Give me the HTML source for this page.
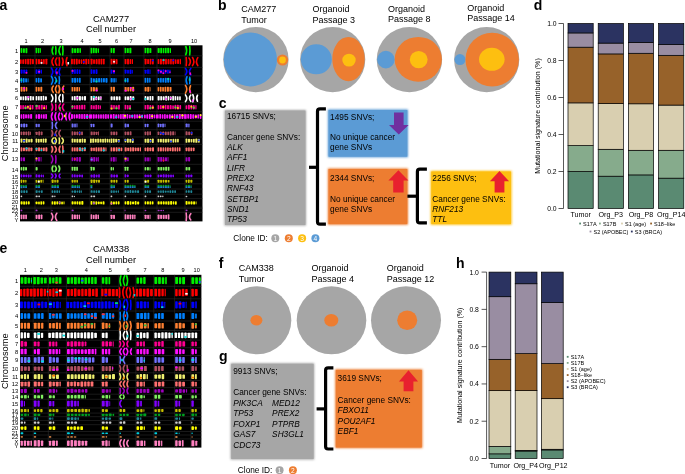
<!DOCTYPE html>
<html><head><meta charset="utf-8"><title>Figure</title>
<style>html,body{margin:0;padding:0;background:#fff}svg{display:block}text{font-family:"Liberation Sans", sans-serif}</style>
</head><body>
<svg width="685" height="474" viewBox="0 0 685 474">
<defs>
<filter id="kb" x="-5%" y="-5%" width="110%" height="110%"><feGaussianBlur stdDeviation="0.35"/></filter>
<filter id="sb" x="-10%" y="-10%" width="120%" height="120%"><feGaussianBlur stdDeviation="0.9"/></filter>
</defs>
<rect width="685" height="474" fill="#fff"/>
<text x="-0.6" y="10" font-size="14" text-anchor="start" font-weight="bold" font-style="normal" fill="#000" >a</text>
<text x="111" y="21.9" font-size="9.3" text-anchor="middle" font-weight="normal" font-style="normal" fill="#000" >CAM277</text>
<text x="111" y="32.4" font-size="9.3" text-anchor="middle" font-weight="normal" font-style="normal" fill="#000" >Cell number</text>
<rect x="20" y="45.3" width="182.5" height="176.1" fill="#000"/>
<path d="M35 45.3V221.4M51 45.3V221.4M71 45.3V221.4M90 45.3V221.4M110 45.3V221.4M124 45.3V221.4M144 45.3V221.4M157 45.3V221.4M185 45.3V221.4M20 55.8H202.5M20 67.4H202.5M20 75.9H202.5M20 84.7H202.5M20 93.8H202.5M20 102.7H202.5M20 111.7H202.5M20 121.2H202.5M20 129.7H202.5M20 137H202.5M20 144.4H202.5M20 154.3H202.5M20 164.3H202.5M20 173.2H202.5M20 178.7H202.5M20 183.8H202.5M20 189H202.5M20 194.2H202.5M20 198.6H202.5M20 207.2H202.5M20 208.6H202.5M20 212.3H202.5" stroke="#333" stroke-width="0.5" fill="none"/>
<g filter="url(#kb)">
<g fill="#00F000"><rect x="20.60" y="48.08" width="1.77" height="4.94" rx="0.7"/><rect x="22.97" y="48.13" width="1.92" height="4.85" rx="0.7"/><rect x="25.49" y="47.95" width="1.87" height="5.19" rx="0.7"/><rect x="35.60" y="47.87" width="1.64" height="5.36" rx="0.7"/><rect x="37.84" y="47.92" width="1.63" height="5.27" rx="0.7"/><rect x="40.08" y="48.12" width="0.92" height="4.87" rx="0.7"/><rect x="71.60" y="47.94" width="1.89" height="5.23" rx="0.7"/><rect x="74.09" y="48.14" width="2.08" height="4.81" rx="0.7"/><rect x="76.77" y="48.00" width="2.02" height="5.10" rx="0.7"/><rect x="79.39" y="48.10" width="1.61" height="4.90" rx="0.7"/><rect x="90.60" y="47.69" width="1.76" height="5.72" rx="0.7"/><rect x="92.96" y="47.83" width="1.70" height="5.44" rx="0.7"/><rect x="95.26" y="47.95" width="1.92" height="5.20" rx="0.7"/><rect x="97.78" y="48.13" width="1.22" height="4.83" rx="0.7"/><rect x="110.60" y="48.05" width="1.64" height="5.00" rx="0.7"/><rect x="112.84" y="47.92" width="1.94" height="5.26" rx="0.7"/><rect x="124.60" y="47.83" width="1.76" height="5.45" rx="0.7"/><rect x="126.96" y="47.99" width="1.83" height="5.11" rx="0.7"/><rect x="129.39" y="47.76" width="1.99" height="5.58" rx="0.7"/><rect x="144.60" y="47.83" width="1.73" height="5.44" rx="0.7"/><rect x="146.93" y="47.66" width="1.86" height="5.79" rx="0.7"/><rect x="149.40" y="48.00" width="1.96" height="5.10" rx="0.7"/><rect x="157.60" y="48.10" width="2.08" height="4.90" rx="0.7"/><rect x="160.28" y="47.72" width="1.81" height="5.65" rx="0.7"/><rect x="162.69" y="47.88" width="1.69" height="5.34" rx="0.7"/><rect x="164.98" y="47.78" width="1.63" height="5.55" rx="0.7"/><rect x="167.22" y="47.83" width="1.98" height="5.43" rx="0.7"/><rect x="169.79" y="47.99" width="1.21" height="5.13" rx="0.7"/></g>
<path d="M53.00 46.91Q51.20 50.55 53.00 54.19M55.70 46.86Q56.30 50.55 55.70 54.24M60.30 46.40Q57.60 50.55 60.30 54.70M62.70 46.12Q63.30 50.55 62.70 54.98M185.80 46.43Q187.60 50.55 185.80 54.67M189.70 46.25Q190.30 50.55 189.70 54.85" stroke="#00F000" stroke-width="1.6" fill="none" stroke-linecap="round"/>
<g fill="#FF0000"><rect x="20.00" y="59.16" width="1.65" height="4.87" rx="0.7"/><rect x="22.25" y="59.18" width="1.95" height="4.84" rx="0.7"/><rect x="24.79" y="58.88" width="1.76" height="5.44" rx="0.7"/><rect x="27.16" y="58.80" width="1.83" height="5.60" rx="0.7"/><rect x="29.58" y="58.67" width="1.78" height="5.87" rx="0.7"/><rect x="31.96" y="58.93" width="1.91" height="5.34" rx="0.7"/><rect x="35.60" y="58.79" width="1.75" height="5.63" rx="0.7"/><rect x="37.95" y="58.93" width="2.05" height="5.34" rx="0.7"/><rect x="40.60" y="59.06" width="1.81" height="5.09" rx="0.7"/><rect x="43.01" y="58.98" width="1.75" height="5.25" rx="0.7"/><rect x="45.36" y="58.66" width="2.03" height="5.89" rx="0.7"/><rect x="71.00" y="58.86" width="1.86" height="5.49" rx="0.7"/><rect x="73.46" y="58.69" width="1.64" height="5.82" rx="0.7"/><rect x="75.70" y="58.75" width="2.03" height="5.70" rx="0.7"/><rect x="78.33" y="59.16" width="1.80" height="4.88" rx="0.7"/><rect x="80.74" y="59.18" width="1.64" height="4.84" rx="0.7"/><rect x="82.98" y="59.02" width="1.69" height="5.16" rx="0.7"/><rect x="85.27" y="58.66" width="1.87" height="5.88" rx="0.7"/><rect x="87.74" y="59.10" width="1.65" height="5.00" rx="0.7"/><rect x="90.60" y="58.66" width="1.92" height="5.88" rx="0.7"/><rect x="93.12" y="59.15" width="1.84" height="4.90" rx="0.7"/><rect x="95.56" y="58.94" width="2.08" height="5.32" rx="0.7"/><rect x="98.24" y="58.78" width="1.68" height="5.64" rx="0.7"/><rect x="100.52" y="58.81" width="1.84" height="5.57" rx="0.7"/><rect x="102.96" y="58.66" width="1.71" height="5.88" rx="0.7"/><rect x="110.60" y="58.68" width="1.94" height="5.84" rx="0.7"/><rect x="113.14" y="58.84" width="1.76" height="5.52" rx="0.7"/><rect x="115.50" y="59.01" width="2.05" height="5.18" rx="0.7"/><rect x="124.60" y="58.92" width="1.87" height="5.35" rx="0.7"/><rect x="127.07" y="58.76" width="1.91" height="5.69" rx="0.7"/><rect x="129.58" y="59.08" width="1.71" height="5.04" rx="0.7"/><rect x="131.89" y="59.10" width="1.11" height="5.00" rx="0.7"/><rect x="144.60" y="58.64" width="1.96" height="5.92" rx="0.7"/><rect x="147.16" y="59.11" width="1.84" height="4.99" rx="0.7"/><rect x="149.60" y="58.74" width="1.78" height="5.71" rx="0.7"/><rect x="151.98" y="58.65" width="1.78" height="5.91" rx="0.7"/><rect x="157.60" y="59.10" width="1.71" height="5.00" rx="0.7"/><rect x="159.91" y="58.73" width="2.04" height="5.75" rx="0.7"/><rect x="162.55" y="58.75" width="1.93" height="5.70" rx="0.7"/><rect x="165.08" y="58.80" width="1.80" height="5.60" rx="0.7"/><rect x="167.48" y="58.96" width="2.04" height="5.27" rx="0.7"/><rect x="170.11" y="58.66" width="1.66" height="5.87" rx="0.7"/><rect x="172.37" y="58.78" width="1.84" height="5.63" rx="0.7"/><rect x="174.80" y="59.13" width="1.68" height="4.94" rx="0.7"/><rect x="177.08" y="59.13" width="2.00" height="4.93" rx="0.7"/><rect x="179.68" y="58.83" width="1.32" height="5.53" rx="0.7"/></g>
<path d="M53.30 57.88Q50.60 61.60 53.30 65.32M56.80 58.01Q54.10 61.60 56.80 65.19M59.20 57.85Q59.80 61.60 59.20 65.35M62.30 58.01Q64.10 61.60 62.30 65.19M67.00 57.54Q65.20 61.60 67.00 65.66M186.20 57.52Q186.80 61.60 186.20 65.68M189.00 58.00Q191.70 61.60 189.00 65.20M192.50 57.54Q195.20 61.60 192.50 65.66M197.80 57.63Q195.10 61.60 197.80 65.57" stroke="#FF0000" stroke-width="1.6" fill="none" stroke-linecap="round"/>
<rect x="40.60" y="62.07" width="1.81" height="1.7" fill="#FFFFFF"/><rect x="67.48" y="62.02" width="1.6" height="2.4" fill="#FFFFFF"/><rect x="82.98" y="61.04" width="1.69" height="1.7" fill="#0000FF"/><rect x="113.14" y="60.87" width="1.76" height="1.7" fill="#FFFFFF"/><rect x="151.98" y="59.62" width="1.78" height="1.7" fill="#0000FF"/><rect x="162.55" y="59.24" width="1.93" height="1.7" fill="#00D0E0"/><rect x="172.37" y="59.47" width="1.84" height="1.7" fill="#0000FF"/>
<g fill="#0000FF"><rect x="20.60" y="69.59" width="2.01" height="4.11" rx="0.7"/><rect x="23.21" y="69.58" width="1.75" height="4.14" rx="0.7"/><rect x="25.56" y="69.49" width="1.74" height="4.31" rx="0.7"/><rect x="35.60" y="69.30" width="1.93" height="4.70" rx="0.7"/><rect x="38.13" y="69.27" width="2.01" height="4.76" rx="0.7"/><rect x="40.74" y="69.48" width="1.26" height="4.34" rx="0.7"/><rect x="71.60" y="69.32" width="1.88" height="4.67" rx="0.7"/><rect x="74.08" y="69.32" width="1.75" height="4.66" rx="0.7"/><rect x="76.43" y="69.33" width="1.88" height="4.64" rx="0.7"/><rect x="78.91" y="69.40" width="1.59" height="4.50" rx="0.7"/><rect x="90.60" y="69.36" width="1.86" height="4.58" rx="0.7"/><rect x="93.06" y="69.46" width="1.87" height="4.37" rx="0.7"/><rect x="95.53" y="69.27" width="1.95" height="4.76" rx="0.7"/><rect x="110.60" y="69.42" width="1.74" height="4.45" rx="0.7"/><rect x="112.94" y="69.63" width="2.01" height="4.04" rx="0.7"/><rect x="124.60" y="69.49" width="1.93" height="4.32" rx="0.7"/><rect x="127.13" y="69.64" width="1.76" height="4.03" rx="0.7"/><rect x="129.49" y="69.38" width="2.06" height="4.53" rx="0.7"/><rect x="132.15" y="69.63" width="0.85" height="4.04" rx="0.7"/><rect x="144.60" y="69.65" width="1.97" height="4.00" rx="0.7"/><rect x="147.17" y="69.37" width="1.69" height="4.56" rx="0.7"/><rect x="149.46" y="69.21" width="1.04" height="4.87" rx="0.7"/><rect x="157.60" y="69.52" width="1.82" height="4.25" rx="0.7"/><rect x="160.02" y="69.48" width="1.88" height="4.34" rx="0.7"/><rect x="162.49" y="69.23" width="1.76" height="4.84" rx="0.7"/><rect x="164.85" y="69.57" width="1.66" height="4.17" rx="0.7"/><rect x="167.11" y="69.49" width="1.68" height="4.32" rx="0.7"/><rect x="169.39" y="69.57" width="1.11" height="4.16" rx="0.7"/></g>
<path d="M51.50 68.16Q54.20 71.65 51.50 75.14M56.80 68.60Q54.10 71.65 56.80 74.70M60.00 68.28Q58.20 71.65 60.00 75.02M185.50 68.53Q188.20 71.65 185.50 74.77M190.80 68.42Q188.10 71.65 190.80 74.88" stroke="#0000FF" stroke-width="1.6" fill="none" stroke-linecap="round"/>
<rect x="25.56" y="71.93" width="1.74" height="1.7" fill="#FF00C0"/><rect x="38.13" y="70.92" width="2.01" height="1.7" fill="#FF00C0"/><rect x="56.14" y="71.46" width="1.6" height="2.4" fill="#FF00C0"/><rect x="71.60" y="70.08" width="1.88" height="1.7" fill="#FF00C0"/><rect x="112.94" y="70.40" width="2.01" height="1.7" fill="#FF00C0"/><rect x="157.60" y="69.57" width="1.82" height="1.7" fill="#FF00C0"/><rect x="160.02" y="70.90" width="1.88" height="1.7" fill="#FF00C0"/><rect x="162.49" y="72.38" width="1.76" height="1.7" fill="#FF00C0"/><rect x="164.85" y="70.26" width="1.66" height="1.7" fill="#FF00C0"/><rect x="169.39" y="71.36" width="1.11" height="1.7" fill="#FF00C0"/><rect x="189.51" y="72.46" width="1.6" height="2.4" fill="#FF00C0"/>
<g fill="#0080FF"><rect x="20.60" y="77.78" width="1.65" height="5.05" rx="0.7"/><rect x="22.85" y="77.93" width="1.78" height="4.73" rx="0.7"/><rect x="25.23" y="78.15" width="1.74" height="4.30" rx="0.7"/><rect x="27.57" y="78.16" width="0.93" height="4.28" rx="0.7"/><rect x="35.60" y="78.11" width="1.64" height="4.37" rx="0.7"/><rect x="37.84" y="77.83" width="1.76" height="4.95" rx="0.7"/><rect x="40.20" y="78.13" width="1.80" height="4.35" rx="0.7"/><rect x="71.60" y="77.88" width="1.93" height="4.83" rx="0.7"/><rect x="74.13" y="77.76" width="1.87" height="5.08" rx="0.7"/><rect x="76.60" y="78.11" width="1.76" height="4.39" rx="0.7"/><rect x="78.96" y="77.76" width="1.71" height="5.07" rx="0.7"/><rect x="90.60" y="77.71" width="1.68" height="5.18" rx="0.7"/><rect x="92.88" y="78.21" width="2.01" height="4.18" rx="0.7"/><rect x="95.49" y="78.00" width="2.03" height="4.61" rx="0.7"/><rect x="98.13" y="78.07" width="1.93" height="4.46" rx="0.7"/><rect x="100.66" y="77.98" width="1.75" height="4.64" rx="0.7"/><rect x="103.01" y="78.08" width="1.83" height="4.44" rx="0.7"/><rect x="105.44" y="77.94" width="2.08" height="4.73" rx="0.7"/><rect x="110.60" y="78.06" width="2.07" height="4.48" rx="0.7"/><rect x="113.27" y="78.02" width="1.62" height="4.56" rx="0.7"/><rect x="115.49" y="78.11" width="1.01" height="4.37" rx="0.7"/><rect x="124.60" y="78.08" width="1.62" height="4.44" rx="0.7"/><rect x="126.82" y="78.06" width="1.80" height="4.47" rx="0.7"/><rect x="144.60" y="77.72" width="1.66" height="5.15" rx="0.7"/><rect x="146.86" y="77.76" width="1.69" height="5.08" rx="0.7"/><rect x="149.14" y="77.82" width="1.36" height="4.95" rx="0.7"/><rect x="157.60" y="78.07" width="1.85" height="4.46" rx="0.7"/><rect x="160.05" y="77.79" width="1.68" height="5.01" rx="0.7"/><rect x="162.33" y="78.00" width="1.86" height="4.61" rx="0.7"/><rect x="164.79" y="77.75" width="1.86" height="5.10" rx="0.7"/><rect x="167.25" y="77.80" width="1.89" height="5.00" rx="0.7"/><rect x="169.73" y="77.89" width="1.27" height="4.82" rx="0.7"/></g>
<path d="M51.50 76.50Q54.20 80.30 51.50 84.10M55.00 77.25Q57.70 80.30 55.00 83.35M59.20 76.84Q59.80 80.30 59.20 83.76M187.00 76.62Q185.20 80.30 187.00 83.98M189.70 77.22Q190.30 80.30 189.70 83.38" stroke="#0080FF" stroke-width="1.6" fill="none" stroke-linecap="round"/>
<rect x="20.60" y="79.34" width="1.65" height="1.7" fill="#00E0A0"/><rect x="55.65" y="79.86" width="1.6" height="2.4" fill="#00E0A0"/><rect x="95.49" y="80.61" width="2.03" height="1.7" fill="#00E0A0"/><rect x="124.60" y="79.75" width="1.62" height="1.7" fill="#00E0A0"/><rect x="167.25" y="78.09" width="1.89" height="1.7" fill="#00E0A0"/><rect x="188.80" y="78.31" width="1.6" height="2.4" fill="#00E0A0"/>
<g fill="#FF8030"><rect x="20.60" y="86.78" width="1.99" height="4.93" rx="0.7"/><rect x="23.19" y="86.83" width="1.87" height="4.84" rx="0.7"/><rect x="25.66" y="87.03" width="1.65" height="4.44" rx="0.7"/><rect x="35.60" y="86.79" width="1.71" height="4.93" rx="0.7"/><rect x="37.91" y="86.97" width="1.85" height="4.56" rx="0.7"/><rect x="40.36" y="86.77" width="1.94" height="4.95" rx="0.7"/><rect x="71.60" y="86.92" width="1.72" height="4.67" rx="0.7"/><rect x="73.92" y="86.93" width="1.75" height="4.64" rx="0.7"/><rect x="76.27" y="86.89" width="2.09" height="4.73" rx="0.7"/><rect x="78.96" y="86.92" width="1.04" height="4.65" rx="0.7"/><rect x="90.60" y="86.91" width="1.65" height="4.69" rx="0.7"/><rect x="92.85" y="86.97" width="2.09" height="4.56" rx="0.7"/><rect x="95.54" y="87.13" width="2.06" height="4.24" rx="0.7"/><rect x="110.60" y="86.75" width="1.68" height="5.01" rx="0.7"/><rect x="112.88" y="86.81" width="2.04" height="4.89" rx="0.7"/><rect x="124.60" y="86.92" width="2.04" height="4.67" rx="0.7"/><rect x="127.24" y="86.96" width="1.94" height="4.58" rx="0.7"/><rect x="129.78" y="86.97" width="1.81" height="4.55" rx="0.7"/><rect x="132.19" y="86.74" width="1.97" height="5.03" rx="0.7"/><rect x="144.60" y="87.02" width="2.04" height="4.46" rx="0.7"/><rect x="147.24" y="86.65" width="1.80" height="5.19" rx="0.7"/><rect x="149.64" y="86.95" width="0.86" height="4.61" rx="0.7"/><rect x="157.60" y="87.12" width="1.64" height="4.27" rx="0.7"/><rect x="159.84" y="86.69" width="1.75" height="5.13" rx="0.7"/><rect x="162.19" y="86.90" width="1.74" height="4.69" rx="0.7"/><rect x="164.53" y="86.68" width="1.79" height="5.15" rx="0.7"/><rect x="166.92" y="86.84" width="2.00" height="4.81" rx="0.7"/><rect x="169.52" y="86.88" width="1.98" height="4.73" rx="0.7"/></g>
<path d="M53.30 86.05Q50.60 89.25 53.30 92.45M56.80 85.85Q54.10 89.25 56.80 92.65M58.80 85.63Q60.60 89.25 58.80 92.87M63.80 86.10Q61.10 89.25 63.80 92.40M185.50 85.38Q188.20 89.25 185.50 93.12M190.50 85.76Q188.70 89.25 190.50 92.74" stroke="#FF8030" stroke-width="1.6" fill="none" stroke-linecap="round"/>
<rect x="23.19" y="87.65" width="1.87" height="1.7" fill="#FF00FF"/><rect x="62.45" y="87.60" width="1.6" height="2.4" fill="#FF00FF"/><rect x="95.54" y="89.65" width="2.06" height="1.7" fill="#FF00FF"/><rect x="124.60" y="89.83" width="2.04" height="1.7" fill="#FF00FF"/><rect x="129.78" y="86.98" width="1.81" height="1.7" fill="#FF00FF"/><rect x="132.19" y="89.18" width="1.97" height="1.7" fill="#FF00FF"/><rect x="189.32" y="90.44" width="1.6" height="2.4" fill="#FF00FF"/>
<g fill="#FFFFFF"><rect x="20.00" y="96.21" width="1.88" height="4.07" rx="0.7"/><rect x="22.48" y="96.17" width="1.75" height="4.16" rx="0.7"/><rect x="24.83" y="96.10" width="1.93" height="4.30" rx="0.7"/><rect x="27.35" y="95.97" width="1.84" height="4.56" rx="0.7"/><rect x="29.79" y="95.90" width="1.85" height="4.69" rx="0.7"/><rect x="32.25" y="96.13" width="1.83" height="4.23" rx="0.7"/><rect x="35.60" y="96.03" width="1.82" height="4.44" rx="0.7"/><rect x="38.02" y="96.03" width="1.70" height="4.45" rx="0.7"/><rect x="40.32" y="95.90" width="1.79" height="4.69" rx="0.7"/><rect x="42.71" y="95.87" width="1.62" height="4.75" rx="0.7"/><rect x="44.93" y="96.19" width="1.97" height="4.11" rx="0.7"/><rect x="71.60" y="96.16" width="1.72" height="4.17" rx="0.7"/><rect x="73.92" y="96.08" width="1.80" height="4.34" rx="0.7"/><rect x="76.32" y="95.87" width="2.02" height="4.75" rx="0.7"/><rect x="78.94" y="95.91" width="1.98" height="4.69" rx="0.7"/><rect x="81.52" y="96.26" width="1.85" height="3.98" rx="0.7"/><rect x="83.97" y="96.04" width="2.06" height="4.42" rx="0.7"/><rect x="90.60" y="95.92" width="1.83" height="4.67" rx="0.7"/><rect x="93.03" y="95.83" width="1.69" height="4.85" rx="0.7"/><rect x="95.32" y="96.29" width="1.98" height="3.91" rx="0.7"/><rect x="97.90" y="96.23" width="1.76" height="4.03" rx="0.7"/><rect x="100.26" y="95.96" width="1.24" height="4.58" rx="0.7"/><rect x="110.60" y="96.20" width="2.06" height="4.10" rx="0.7"/><rect x="113.26" y="96.29" width="1.99" height="3.91" rx="0.7"/><rect x="115.85" y="96.16" width="2.09" height="4.18" rx="0.7"/><rect x="118.54" y="96.18" width="1.96" height="4.14" rx="0.7"/><rect x="124.60" y="96.28" width="1.87" height="3.94" rx="0.7"/><rect x="127.07" y="96.27" width="1.92" height="3.96" rx="0.7"/><rect x="129.60" y="95.98" width="2.04" height="4.54" rx="0.7"/><rect x="132.23" y="96.19" width="2.05" height="4.13" rx="0.7"/><rect x="144.60" y="96.10" width="1.79" height="4.29" rx="0.7"/><rect x="146.99" y="96.20" width="1.85" height="4.11" rx="0.7"/><rect x="149.44" y="95.90" width="1.76" height="4.70" rx="0.7"/><rect x="151.80" y="95.93" width="1.72" height="4.64" rx="0.7"/><rect x="157.60" y="96.06" width="2.07" height="4.39" rx="0.7"/><rect x="160.27" y="96.09" width="1.72" height="4.31" rx="0.7"/><rect x="162.59" y="96.22" width="2.07" height="4.05" rx="0.7"/><rect x="165.25" y="95.82" width="1.72" height="4.85" rx="0.7"/><rect x="167.57" y="96.08" width="1.70" height="4.34" rx="0.7"/><rect x="169.87" y="96.24" width="1.76" height="4.02" rx="0.7"/><rect x="172.24" y="95.84" width="1.70" height="4.81" rx="0.7"/><rect x="174.54" y="95.97" width="1.63" height="4.55" rx="0.7"/><rect x="176.77" y="96.13" width="1.79" height="4.23" rx="0.7"/><rect x="179.16" y="96.16" width="1.62" height="4.18" rx="0.7"/></g>
<path d="M51.50 94.94Q54.20 98.25 51.50 101.56M55.70 94.59Q56.30 98.25 55.70 101.91M60.30 94.80Q57.60 98.25 60.30 101.70M62.70 94.84Q63.30 98.25 62.70 101.66M185.50 94.89Q188.20 98.25 185.50 101.61M190.80 95.03Q188.10 98.25 190.80 101.47M192.80 94.70Q194.60 98.25 192.80 101.80M197.50 95.24Q195.70 98.25 197.50 101.26" stroke="#FFFFFF" stroke-width="1.6" fill="none" stroke-linecap="round"/>
<rect x="27.35" y="96.19" width="1.84" height="1.7" fill="#FF40FF"/><rect x="76.32" y="97.21" width="2.02" height="1.7" fill="#FF40FF"/><rect x="93.03" y="96.10" width="1.69" height="1.7" fill="#00E0E0"/><rect x="95.32" y="97.79" width="1.98" height="1.7" fill="#FF40FF"/><rect x="100.26" y="96.85" width="1.24" height="1.7" fill="#FF40FF"/><rect x="129.60" y="97.94" width="2.04" height="1.7" fill="#FF40FF"/><rect x="132.23" y="98.00" width="2.05" height="1.7" fill="#00E0E0"/><rect x="144.60" y="98.09" width="1.79" height="1.7" fill="#00E0E0"/><rect x="165.25" y="98.13" width="1.72" height="1.7" fill="#FF40FF"/><rect x="169.87" y="97.04" width="1.76" height="1.7" fill="#FF40FF"/><rect x="191.91" y="99.47" width="1.6" height="2.4" fill="#FF40FF"/>
<g fill="#FF0090"><rect x="20.00" y="105.07" width="1.71" height="4.26" rx="0.7"/><rect x="22.31" y="105.05" width="1.63" height="4.31" rx="0.7"/><rect x="24.54" y="105.23" width="1.98" height="3.95" rx="0.7"/><rect x="27.12" y="105.15" width="1.64" height="4.10" rx="0.7"/><rect x="29.36" y="104.78" width="1.77" height="4.83" rx="0.7"/><rect x="31.73" y="104.90" width="1.76" height="4.61" rx="0.7"/><rect x="35.60" y="104.79" width="2.00" height="4.82" rx="0.7"/><rect x="38.20" y="105.02" width="1.95" height="4.36" rx="0.7"/><rect x="40.75" y="104.80" width="1.99" height="4.79" rx="0.7"/><rect x="43.34" y="105.01" width="1.68" height="4.39" rx="0.7"/><rect x="45.62" y="104.95" width="1.38" height="4.50" rx="0.7"/><rect x="71.60" y="105.04" width="1.69" height="4.32" rx="0.7"/><rect x="73.89" y="105.20" width="1.65" height="4.00" rx="0.7"/><rect x="76.15" y="105.03" width="1.95" height="4.34" rx="0.7"/><rect x="78.70" y="104.95" width="1.81" height="4.51" rx="0.7"/><rect x="81.11" y="104.84" width="1.97" height="4.73" rx="0.7"/><rect x="83.68" y="104.84" width="1.67" height="4.72" rx="0.7"/><rect x="90.60" y="105.06" width="1.88" height="4.27" rx="0.7"/><rect x="93.08" y="105.13" width="1.71" height="4.15" rx="0.7"/><rect x="95.39" y="104.82" width="1.69" height="4.76" rx="0.7"/><rect x="97.68" y="105.05" width="1.77" height="4.29" rx="0.7"/><rect x="100.05" y="105.13" width="0.95" height="4.13" rx="0.7"/><rect x="110.60" y="104.77" width="1.93" height="4.87" rx="0.7"/><rect x="113.13" y="105.03" width="1.72" height="4.34" rx="0.7"/><rect x="115.45" y="105.13" width="2.03" height="4.13" rx="0.7"/><rect x="118.08" y="104.83" width="1.79" height="4.75" rx="0.7"/><rect x="124.60" y="104.87" width="1.74" height="4.66" rx="0.7"/><rect x="126.94" y="104.96" width="1.67" height="4.49" rx="0.7"/><rect x="129.20" y="105.07" width="1.72" height="4.27" rx="0.7"/><rect x="144.60" y="104.89" width="1.63" height="4.62" rx="0.7"/><rect x="146.83" y="104.85" width="2.00" height="4.70" rx="0.7"/><rect x="149.44" y="104.95" width="1.79" height="4.51" rx="0.7"/><rect x="151.83" y="105.21" width="1.88" height="3.97" rx="0.7"/><rect x="157.60" y="104.99" width="1.69" height="4.43" rx="0.7"/><rect x="159.89" y="105.11" width="1.80" height="4.17" rx="0.7"/><rect x="162.29" y="105.04" width="1.93" height="4.31" rx="0.7"/><rect x="164.82" y="104.87" width="1.62" height="4.65" rx="0.7"/><rect x="167.05" y="105.06" width="1.92" height="4.29" rx="0.7"/><rect x="169.57" y="105.04" width="2.06" height="4.33" rx="0.7"/><rect x="172.23" y="105.20" width="1.67" height="4.00" rx="0.7"/><rect x="174.50" y="104.87" width="1.79" height="4.66" rx="0.7"/><rect x="176.89" y="104.81" width="1.92" height="4.79" rx="0.7"/><rect x="179.41" y="105.08" width="1.70" height="4.25" rx="0.7"/><rect x="185.60" y="105.21" width="1.70" height="3.97" rx="0.7"/><rect x="187.90" y="104.86" width="1.97" height="4.68" rx="0.7"/><rect x="190.47" y="104.84" width="1.76" height="4.72" rx="0.7"/><rect x="192.83" y="104.94" width="1.90" height="4.52" rx="0.7"/><rect x="195.33" y="104.95" width="1.17" height="4.51" rx="0.7"/></g>
<path d="M51.80 103.92Q53.60 107.20 51.80 110.48M55.70 104.20Q56.30 107.20 55.70 110.20M60.30 103.97Q57.60 107.20 60.30 110.43M63.80 104.07Q61.10 107.20 63.80 110.33" stroke="#FF0090" stroke-width="1.6" fill="none" stroke-linecap="round"/>
<rect x="24.54" y="107.11" width="1.98" height="1.7" fill="#40F040"/><rect x="27.12" y="106.06" width="1.64" height="1.7" fill="#FFE000"/><rect x="29.36" y="107.77" width="1.77" height="1.7" fill="#FFE000"/><rect x="35.60" y="105.13" width="2.00" height="1.7" fill="#40F040"/><rect x="43.34" y="107.30" width="1.68" height="1.7" fill="#FFE000"/><rect x="59.06" y="107.11" width="1.6" height="2.4" fill="#40F040"/><rect x="71.60" y="105.76" width="1.69" height="1.7" fill="#40F040"/><rect x="110.60" y="107.65" width="1.93" height="1.7" fill="#FFE000"/><rect x="115.45" y="107.49" width="2.03" height="1.7" fill="#40F040"/><rect x="129.20" y="107.73" width="1.72" height="1.7" fill="#40F040"/><rect x="149.44" y="107.26" width="1.79" height="1.7" fill="#40F040"/><rect x="151.83" y="106.79" width="1.88" height="1.7" fill="#FFE000"/><rect x="162.29" y="106.17" width="1.93" height="1.7" fill="#FFE000"/><rect x="174.50" y="106.56" width="1.79" height="1.7" fill="#40F040"/><rect x="176.89" y="107.16" width="1.92" height="1.7" fill="#FFE000"/><rect x="190.47" y="105.82" width="1.76" height="1.7" fill="#FFE000"/><rect x="192.83" y="106.81" width="1.90" height="1.7" fill="#40F040"/>
<g fill="#FF10FF"><rect x="20.60" y="114.17" width="1.71" height="4.56" rx="0.7"/><rect x="22.91" y="113.94" width="1.63" height="5.03" rx="0.7"/><rect x="25.14" y="114.33" width="1.79" height="4.23" rx="0.7"/><rect x="27.53" y="114.31" width="2.00" height="4.27" rx="0.7"/><rect x="30.13" y="114.07" width="2.02" height="4.76" rx="0.7"/><rect x="35.60" y="114.21" width="1.77" height="4.47" rx="0.7"/><rect x="37.97" y="114.02" width="2.02" height="4.86" rx="0.7"/><rect x="40.59" y="114.28" width="1.76" height="4.33" rx="0.7"/><rect x="42.95" y="114.16" width="1.79" height="4.59" rx="0.7"/><rect x="45.34" y="113.91" width="1.62" height="5.07" rx="0.7"/><rect x="71.00" y="114.02" width="1.96" height="4.86" rx="0.7"/><rect x="73.56" y="114.16" width="1.64" height="4.59" rx="0.7"/><rect x="75.80" y="114.34" width="2.07" height="4.22" rx="0.7"/><rect x="78.47" y="114.04" width="2.09" height="4.82" rx="0.7"/><rect x="81.16" y="113.92" width="1.71" height="5.07" rx="0.7"/><rect x="83.47" y="113.95" width="2.07" height="5.00" rx="0.7"/><rect x="86.14" y="113.94" width="1.99" height="5.02" rx="0.7"/><rect x="88.72" y="114.25" width="1.28" height="4.41" rx="0.7"/><rect x="90.00" y="114.18" width="2.04" height="4.54" rx="0.7"/><rect x="92.64" y="114.17" width="2.07" height="4.56" rx="0.7"/><rect x="95.32" y="114.29" width="1.91" height="4.32" rx="0.7"/><rect x="97.83" y="114.21" width="1.71" height="4.49" rx="0.7"/><rect x="100.13" y="114.24" width="1.75" height="4.41" rx="0.7"/><rect x="102.48" y="114.28" width="1.99" height="4.35" rx="0.7"/><rect x="105.07" y="113.98" width="1.64" height="4.95" rx="0.7"/><rect x="107.31" y="114.15" width="1.83" height="4.61" rx="0.7"/><rect x="110.00" y="114.28" width="2.04" height="4.33" rx="0.7"/><rect x="112.64" y="114.04" width="2.02" height="4.82" rx="0.7"/><rect x="115.26" y="114.22" width="1.79" height="4.45" rx="0.7"/><rect x="117.66" y="114.32" width="1.83" height="4.26" rx="0.7"/><rect x="120.08" y="114.00" width="1.64" height="4.91" rx="0.7"/><rect x="122.32" y="113.91" width="1.68" height="5.07" rx="0.7"/><rect x="124.00" y="114.25" width="1.93" height="4.40" rx="0.7"/><rect x="126.53" y="114.09" width="1.75" height="4.71" rx="0.7"/><rect x="128.88" y="114.39" width="1.79" height="4.13" rx="0.7"/><rect x="131.27" y="114.39" width="1.91" height="4.13" rx="0.7"/><rect x="133.78" y="114.14" width="1.86" height="4.62" rx="0.7"/><rect x="136.24" y="114.34" width="1.76" height="4.21" rx="0.7"/><rect x="138.60" y="114.33" width="2.01" height="4.24" rx="0.7"/><rect x="141.21" y="114.38" width="1.83" height="4.14" rx="0.7"/><rect x="144.00" y="114.40" width="1.74" height="4.09" rx="0.7"/><rect x="146.34" y="114.23" width="1.88" height="4.43" rx="0.7"/><rect x="148.82" y="113.94" width="1.83" height="5.02" rx="0.7"/><rect x="151.25" y="113.95" width="1.73" height="4.99" rx="0.7"/><rect x="153.58" y="114.38" width="1.73" height="4.14" rx="0.7"/><rect x="155.91" y="114.13" width="1.09" height="4.64" rx="0.7"/><rect x="157.00" y="114.31" width="1.68" height="4.28" rx="0.7"/><rect x="159.28" y="114.09" width="1.86" height="4.73" rx="0.7"/><rect x="161.74" y="114.25" width="1.70" height="4.39" rx="0.7"/><rect x="164.04" y="113.96" width="1.64" height="4.98" rx="0.7"/><rect x="166.27" y="114.41" width="1.95" height="4.09" rx="0.7"/><rect x="168.83" y="114.18" width="1.97" height="4.55" rx="0.7"/><rect x="171.40" y="114.30" width="1.83" height="4.31" rx="0.7"/><rect x="173.83" y="113.96" width="1.67" height="4.98" rx="0.7"/><rect x="176.10" y="114.28" width="2.06" height="4.35" rx="0.7"/><rect x="178.76" y="113.92" width="2.05" height="5.06" rx="0.7"/><rect x="181.42" y="113.96" width="2.06" height="4.98" rx="0.7"/><rect x="184.07" y="113.99" width="0.93" height="4.93" rx="0.7"/><rect x="185.00" y="113.95" width="1.69" height="5.00" rx="0.7"/><rect x="187.29" y="114.11" width="1.80" height="4.69" rx="0.7"/><rect x="189.69" y="113.95" width="2.02" height="5.01" rx="0.7"/><rect x="192.31" y="114.14" width="2.01" height="4.62" rx="0.7"/><rect x="194.92" y="114.41" width="1.87" height="4.09" rx="0.7"/><rect x="197.39" y="114.30" width="1.76" height="4.29" rx="0.7"/><rect x="199.75" y="113.95" width="1.65" height="5.00" rx="0.7"/></g>
<path d="M52.40 112.79Q50.60 116.45 52.40 120.11M55.90 112.74Q54.10 116.45 55.90 120.16M59.40 113.07Q57.60 116.45 59.40 119.83M61.40 113.28Q64.10 116.45 61.40 119.62M66.40 113.10Q64.60 116.45 66.40 119.80M69.90 112.99Q68.10 116.45 69.90 119.91" stroke="#FF10FF" stroke-width="1.6" fill="none" stroke-linecap="round"/>
<rect x="63.91" y="114.74" width="1.6" height="2.4" fill="#FFFF00"/><rect x="86.14" y="116.03" width="1.99" height="1.7" fill="#00D0E0"/><rect x="115.26" y="116.40" width="1.79" height="1.7" fill="#00D0E0"/><rect x="124.00" y="114.87" width="1.93" height="1.7" fill="#FFFF00"/><rect x="131.27" y="115.15" width="1.91" height="1.7" fill="#00D0E0"/><rect x="138.60" y="116.20" width="2.01" height="1.7" fill="#FFFF00"/><rect x="141.21" y="115.40" width="1.83" height="1.7" fill="#00D0E0"/><rect x="151.25" y="115.33" width="1.73" height="1.7" fill="#FFFF00"/><rect x="171.40" y="116.04" width="1.83" height="1.7" fill="#FFFF00"/><rect x="176.10" y="116.16" width="2.06" height="1.7" fill="#00D0E0"/><rect x="181.42" y="114.53" width="2.06" height="1.7" fill="#FFFF00"/><rect x="194.92" y="115.82" width="1.87" height="1.7" fill="#FFFF00"/><rect x="199.75" y="114.33" width="1.65" height="1.7" fill="#FFFF00"/>
<g fill="#7070FF"><rect x="20.60" y="123.68" width="1.91" height="3.54" rx="0.7"/><rect x="23.11" y="123.46" width="2.08" height="3.99" rx="0.7"/><rect x="25.79" y="123.69" width="1.63" height="3.52" rx="0.7"/><rect x="35.60" y="123.73" width="1.92" height="3.44" rx="0.7"/><rect x="38.12" y="123.73" width="1.65" height="3.44" rx="0.7"/><rect x="71.60" y="123.38" width="2.00" height="4.15" rx="0.7"/><rect x="74.20" y="123.39" width="1.65" height="4.13" rx="0.7"/><rect x="76.45" y="123.35" width="1.05" height="4.19" rx="0.7"/><rect x="90.60" y="123.66" width="1.67" height="3.57" rx="0.7"/><rect x="92.87" y="123.74" width="1.67" height="3.43" rx="0.7"/><rect x="110.60" y="123.41" width="2.02" height="4.08" rx="0.7"/><rect x="124.60" y="123.40" width="1.92" height="4.09" rx="0.7"/><rect x="127.12" y="123.63" width="1.88" height="3.64" rx="0.7"/><rect x="144.60" y="123.71" width="1.66" height="3.48" rx="0.7"/><rect x="146.86" y="123.66" width="1.64" height="3.57" rx="0.7"/><rect x="157.60" y="123.57" width="1.77" height="3.76" rx="0.7"/><rect x="159.97" y="123.64" width="1.62" height="3.62" rx="0.7"/><rect x="162.19" y="123.45" width="1.75" height="4.00" rx="0.7"/><rect x="164.54" y="123.62" width="0.96" height="3.67" rx="0.7"/><rect x="185.60" y="123.54" width="2.07" height="3.82" rx="0.7"/><rect x="188.27" y="123.49" width="1.23" height="3.92" rx="0.7"/></g>
<path d="M52.20 122.40Q52.80 125.45 52.20 128.50M56.80 122.37Q54.10 125.45 56.80 128.53" stroke="#7070FF" stroke-width="1.6" fill="none" stroke-linecap="round"/>
<g fill="#B05060"><rect x="20.60" y="131.48" width="1.63" height="3.75" rx="0.7"/><rect x="22.83" y="131.50" width="1.98" height="3.69" rx="0.7"/><rect x="25.41" y="131.56" width="1.87" height="3.58" rx="0.7"/><rect x="27.88" y="131.31" width="1.66" height="4.09" rx="0.7"/><rect x="30.14" y="131.57" width="0.86" height="3.57" rx="0.7"/><rect x="35.60" y="131.65" width="2.08" height="3.40" rx="0.7"/><rect x="38.28" y="131.32" width="1.85" height="4.07" rx="0.7"/><rect x="40.73" y="131.50" width="1.85" height="3.69" rx="0.7"/><rect x="71.60" y="131.32" width="1.65" height="4.06" rx="0.7"/><rect x="73.85" y="131.39" width="1.99" height="3.93" rx="0.7"/><rect x="76.44" y="131.48" width="1.81" height="3.73" rx="0.7"/><rect x="78.85" y="131.28" width="1.66" height="4.15" rx="0.7"/><rect x="81.10" y="131.42" width="1.82" height="3.86" rx="0.7"/><rect x="90.60" y="131.39" width="2.08" height="3.93" rx="0.7"/><rect x="93.28" y="131.40" width="1.68" height="3.90" rx="0.7"/><rect x="95.56" y="131.64" width="1.90" height="3.43" rx="0.7"/><rect x="98.06" y="131.29" width="0.94" height="4.13" rx="0.7"/><rect x="110.60" y="131.51" width="1.88" height="3.67" rx="0.7"/><rect x="113.08" y="131.54" width="1.94" height="3.62" rx="0.7"/><rect x="115.62" y="131.38" width="1.77" height="3.94" rx="0.7"/><rect x="124.60" y="131.54" width="1.86" height="3.62" rx="0.7"/><rect x="127.06" y="131.39" width="2.01" height="3.92" rx="0.7"/><rect x="129.66" y="131.35" width="1.84" height="4.01" rx="0.7"/><rect x="144.60" y="131.55" width="1.78" height="3.60" rx="0.7"/><rect x="146.98" y="131.25" width="1.74" height="4.20" rx="0.7"/><rect x="149.32" y="131.37" width="1.69" height="3.95" rx="0.7"/><rect x="157.60" y="131.59" width="1.69" height="3.52" rx="0.7"/><rect x="159.89" y="131.53" width="1.76" height="3.63" rx="0.7"/><rect x="162.24" y="131.46" width="2.04" height="3.79" rx="0.7"/><rect x="164.88" y="131.38" width="1.85" height="3.93" rx="0.7"/><rect x="167.33" y="131.40" width="1.68" height="3.91" rx="0.7"/><rect x="169.61" y="131.27" width="1.97" height="4.16" rx="0.7"/><rect x="172.18" y="131.34" width="1.89" height="4.03" rx="0.7"/><rect x="174.67" y="131.35" width="0.83" height="4.01" rx="0.7"/><rect x="185.60" y="131.36" width="1.98" height="3.99" rx="0.7"/><rect x="188.18" y="131.38" width="1.94" height="3.94" rx="0.7"/><rect x="190.72" y="131.39" width="1.76" height="3.93" rx="0.7"/></g>
<path d="M51.80 130.56Q53.60 133.35 51.80 136.14M56.80 130.74Q54.10 133.35 56.80 135.96M60.30 130.34Q57.60 133.35 60.30 136.36" stroke="#B05060" stroke-width="1.6" fill="none" stroke-linecap="round"/>
<rect x="54.18" y="133.58" width="1.6" height="2.4" fill="#0020FF"/><rect x="78.85" y="132.05" width="1.66" height="1.7" fill="#0020FF"/><rect x="159.89" y="132.11" width="1.76" height="1.7" fill="#0020FF"/><rect x="162.24" y="132.97" width="2.04" height="1.7" fill="#0020FF"/><rect x="190.72" y="131.95" width="1.76" height="1.7" fill="#0020FF"/>
<g fill="#F0F070"><rect x="20.60" y="138.60" width="1.81" height="4.20" rx="0.7"/><rect x="23.01" y="138.70" width="2.02" height="4.00" rx="0.7"/><rect x="25.62" y="138.53" width="1.93" height="4.34" rx="0.7"/><rect x="28.15" y="138.91" width="1.77" height="3.58" rx="0.7"/><rect x="30.52" y="138.87" width="2.05" height="3.66" rx="0.7"/><rect x="35.60" y="138.60" width="1.72" height="4.20" rx="0.7"/><rect x="37.92" y="138.76" width="1.71" height="3.88" rx="0.7"/><rect x="40.23" y="138.82" width="1.83" height="3.75" rx="0.7"/><rect x="42.66" y="138.57" width="1.62" height="4.27" rx="0.7"/><rect x="44.88" y="138.59" width="1.78" height="4.22" rx="0.7"/><rect x="71.60" y="138.61" width="1.81" height="4.19" rx="0.7"/><rect x="74.01" y="138.82" width="1.74" height="3.77" rx="0.7"/><rect x="76.36" y="138.68" width="2.06" height="4.03" rx="0.7"/><rect x="79.02" y="138.74" width="2.00" height="3.92" rx="0.7"/><rect x="81.61" y="138.57" width="1.68" height="4.25" rx="0.7"/><rect x="83.89" y="138.71" width="1.92" height="3.98" rx="0.7"/><rect x="90.00" y="138.49" width="1.72" height="4.42" rx="0.7"/><rect x="92.32" y="138.55" width="1.92" height="4.29" rx="0.7"/><rect x="94.84" y="138.79" width="1.84" height="3.83" rx="0.7"/><rect x="97.28" y="138.55" width="1.67" height="4.31" rx="0.7"/><rect x="99.55" y="138.80" width="2.02" height="3.81" rx="0.7"/><rect x="102.17" y="138.73" width="1.74" height="3.95" rx="0.7"/><rect x="104.51" y="138.60" width="1.62" height="4.21" rx="0.7"/><rect x="106.72" y="138.78" width="1.73" height="3.84" rx="0.7"/><rect x="109.05" y="138.63" width="0.95" height="4.13" rx="0.7"/><rect x="110.60" y="138.51" width="1.79" height="4.39" rx="0.7"/><rect x="112.99" y="138.55" width="1.64" height="4.30" rx="0.7"/><rect x="115.23" y="138.85" width="1.99" height="3.69" rx="0.7"/><rect x="117.82" y="138.91" width="1.92" height="3.58" rx="0.7"/><rect x="124.60" y="138.87" width="1.73" height="3.66" rx="0.7"/><rect x="126.93" y="138.57" width="1.83" height="4.26" rx="0.7"/><rect x="129.36" y="138.68" width="1.81" height="4.04" rx="0.7"/><rect x="131.77" y="138.48" width="1.94" height="4.43" rx="0.7"/><rect x="144.60" y="138.68" width="1.94" height="4.04" rx="0.7"/><rect x="147.14" y="138.53" width="1.82" height="4.35" rx="0.7"/><rect x="149.57" y="138.81" width="1.74" height="3.78" rx="0.7"/><rect x="151.91" y="138.52" width="1.85" height="4.37" rx="0.7"/><rect x="157.60" y="138.84" width="1.73" height="3.72" rx="0.7"/><rect x="159.93" y="138.84" width="1.96" height="3.71" rx="0.7"/><rect x="162.50" y="138.70" width="1.95" height="4.01" rx="0.7"/><rect x="165.04" y="138.73" width="1.84" height="3.95" rx="0.7"/><rect x="167.48" y="138.84" width="1.94" height="3.73" rx="0.7"/><rect x="170.01" y="138.91" width="1.92" height="3.59" rx="0.7"/><rect x="172.54" y="138.70" width="1.66" height="4.00" rx="0.7"/><rect x="174.80" y="138.82" width="1.68" height="3.76" rx="0.7"/><rect x="177.08" y="138.87" width="1.68" height="3.65" rx="0.7"/><rect x="185.60" y="138.57" width="1.78" height="4.26" rx="0.7"/><rect x="187.98" y="138.79" width="2.05" height="3.82" rx="0.7"/><rect x="190.63" y="138.89" width="1.73" height="3.62" rx="0.7"/><rect x="192.96" y="138.70" width="1.78" height="4.01" rx="0.7"/><rect x="195.34" y="138.53" width="2.08" height="4.34" rx="0.7"/><rect x="198.03" y="138.70" width="1.71" height="4.00" rx="0.7"/></g>
<path d="M53.30 137.98Q50.60 140.70 53.30 143.42M55.00 137.77Q57.70 140.70 55.00 143.63M59.20 138.00Q59.80 140.70 59.20 143.40M62.00 138.06Q64.70 140.70 62.00 143.34" stroke="#F0F070" stroke-width="1.6" fill="none" stroke-linecap="round"/>
<rect x="23.01" y="139.94" width="2.02" height="1.7" fill="#2040FF"/><rect x="53.83" y="140.17" width="1.6" height="2.4" fill="#2040FF"/><rect x="117.82" y="140.21" width="1.92" height="1.7" fill="#2040FF"/><rect x="124.60" y="139.25" width="1.73" height="1.7" fill="#2040FF"/><rect x="131.77" y="139.04" width="1.94" height="1.7" fill="#2040FF"/><rect x="149.57" y="140.02" width="1.74" height="1.7" fill="#2040FF"/><rect x="170.01" y="140.51" width="1.92" height="1.7" fill="#2040FF"/><rect x="198.03" y="139.46" width="1.71" height="1.7" fill="#2040FF"/>
<g fill="#FF7070"><rect x="20.60" y="147.31" width="1.76" height="4.09" rx="0.7"/><rect x="22.96" y="147.55" width="1.99" height="3.61" rx="0.7"/><rect x="25.54" y="147.32" width="2.04" height="4.05" rx="0.7"/><rect x="28.18" y="147.20" width="1.64" height="4.29" rx="0.7"/><rect x="30.42" y="147.54" width="1.98" height="3.62" rx="0.7"/><rect x="35.60" y="147.40" width="1.87" height="3.90" rx="0.7"/><rect x="38.07" y="147.36" width="1.93" height="3.97" rx="0.7"/><rect x="40.61" y="147.49" width="1.66" height="3.73" rx="0.7"/><rect x="42.87" y="147.40" width="1.93" height="3.90" rx="0.7"/><rect x="45.39" y="147.32" width="1.99" height="4.07" rx="0.7"/><rect x="71.60" y="147.26" width="1.82" height="4.18" rx="0.7"/><rect x="74.02" y="147.27" width="1.65" height="4.17" rx="0.7"/><rect x="76.26" y="147.27" width="2.09" height="4.15" rx="0.7"/><rect x="78.95" y="147.32" width="1.98" height="4.05" rx="0.7"/><rect x="81.53" y="147.56" width="1.69" height="3.58" rx="0.7"/><rect x="83.82" y="147.47" width="2.02" height="3.76" rx="0.7"/><rect x="90.60" y="147.46" width="1.96" height="3.78" rx="0.7"/><rect x="93.16" y="147.54" width="1.70" height="3.61" rx="0.7"/><rect x="95.46" y="147.19" width="1.95" height="4.32" rx="0.7"/><rect x="98.01" y="147.29" width="1.66" height="4.12" rx="0.7"/><rect x="100.27" y="147.15" width="1.83" height="4.39" rx="0.7"/><rect x="102.70" y="147.25" width="2.07" height="4.20" rx="0.7"/><rect x="105.38" y="147.29" width="1.12" height="4.12" rx="0.7"/><rect x="110.60" y="147.30" width="1.76" height="4.10" rx="0.7"/><rect x="112.96" y="147.30" width="2.01" height="4.11" rx="0.7"/><rect x="115.58" y="147.24" width="2.07" height="4.21" rx="0.7"/><rect x="118.24" y="147.14" width="1.69" height="4.42" rx="0.7"/><rect x="120.53" y="147.39" width="1.81" height="3.91" rx="0.7"/><rect x="124.60" y="147.22" width="2.06" height="4.26" rx="0.7"/><rect x="127.26" y="147.54" width="1.75" height="3.62" rx="0.7"/><rect x="129.62" y="147.20" width="1.95" height="4.30" rx="0.7"/><rect x="132.17" y="147.13" width="1.90" height="4.43" rx="0.7"/><rect x="134.67" y="147.43" width="1.90" height="3.84" rx="0.7"/><rect x="137.17" y="147.40" width="2.04" height="3.90" rx="0.7"/><rect x="139.81" y="147.17" width="1.19" height="4.36" rx="0.7"/><rect x="144.60" y="147.56" width="1.75" height="3.57" rx="0.7"/><rect x="146.95" y="147.31" width="1.82" height="4.09" rx="0.7"/><rect x="149.37" y="147.55" width="2.04" height="3.61" rx="0.7"/><rect x="152.00" y="147.18" width="2.00" height="4.33" rx="0.7"/><rect x="157.60" y="147.19" width="1.75" height="4.32" rx="0.7"/><rect x="159.95" y="147.16" width="1.94" height="4.38" rx="0.7"/><rect x="162.49" y="147.32" width="1.66" height="4.06" rx="0.7"/><rect x="164.74" y="147.23" width="1.71" height="4.23" rx="0.7"/><rect x="167.05" y="147.30" width="1.73" height="4.11" rx="0.7"/><rect x="169.38" y="147.47" width="1.84" height="3.75" rx="0.7"/><rect x="171.81" y="147.22" width="1.97" height="4.27" rx="0.7"/><rect x="174.38" y="147.21" width="1.66" height="4.28" rx="0.7"/><rect x="176.64" y="147.31" width="1.73" height="4.08" rx="0.7"/><rect x="178.97" y="147.33" width="1.53" height="4.03" rx="0.7"/><rect x="185.60" y="147.48" width="1.89" height="3.74" rx="0.7"/><rect x="188.09" y="147.26" width="1.70" height="4.19" rx="0.7"/><rect x="190.40" y="147.39" width="1.88" height="3.92" rx="0.7"/><rect x="192.88" y="147.55" width="1.69" height="3.61" rx="0.7"/></g>
<path d="M51.80 146.54Q53.60 149.35 51.80 152.16M55.00 146.45Q57.70 149.35 55.00 152.25M60.00 146.28Q58.20 149.35 60.00 152.42M62.70 146.03Q63.30 149.35 62.70 152.67" stroke="#FF7070" stroke-width="1.6" fill="none" stroke-linecap="round"/>
<rect x="25.54" y="147.59" width="2.04" height="1.7" fill="#00D0E0"/><rect x="35.60" y="147.89" width="1.87" height="1.7" fill="#00D0E0"/><rect x="40.61" y="149.43" width="1.66" height="1.7" fill="#00D0E0"/><rect x="62.66" y="150.06" width="1.6" height="2.4" fill="#00D0E0"/><rect x="78.95" y="147.84" width="1.98" height="1.7" fill="#00D0E0"/><rect x="81.53" y="149.52" width="1.69" height="1.7" fill="#00D0E0"/><rect x="83.82" y="147.51" width="2.02" height="1.7" fill="#00D0E0"/><rect x="102.70" y="149.55" width="2.07" height="1.7" fill="#00D0E0"/><rect x="118.24" y="148.92" width="1.69" height="1.7" fill="#00D0E0"/>
<g fill="#A000C0"><rect x="20.60" y="157.29" width="1.79" height="4.01" rx="0.7"/><rect x="22.99" y="157.27" width="1.99" height="4.06" rx="0.7"/><rect x="35.60" y="157.09" width="1.78" height="4.41" rx="0.7"/><rect x="37.98" y="157.07" width="2.03" height="4.46" rx="0.7"/><rect x="40.61" y="156.90" width="0.89" height="4.80" rx="0.7"/><rect x="71.60" y="157.33" width="1.74" height="3.95" rx="0.7"/><rect x="73.94" y="157.30" width="1.70" height="3.99" rx="0.7"/><rect x="76.24" y="157.11" width="1.95" height="4.38" rx="0.7"/><rect x="78.79" y="156.93" width="2.04" height="4.74" rx="0.7"/><rect x="90.60" y="157.00" width="2.05" height="4.59" rx="0.7"/><rect x="93.25" y="156.88" width="1.92" height="4.83" rx="0.7"/><rect x="95.77" y="157.13" width="1.80" height="4.34" rx="0.7"/><rect x="98.17" y="156.87" width="0.83" height="4.87" rx="0.7"/><rect x="110.60" y="157.22" width="1.63" height="4.16" rx="0.7"/><rect x="112.83" y="156.91" width="2.04" height="4.78" rx="0.7"/><rect x="115.48" y="156.97" width="1.02" height="4.67" rx="0.7"/><rect x="124.60" y="156.87" width="1.92" height="4.86" rx="0.7"/><rect x="127.12" y="157.25" width="1.62" height="4.10" rx="0.7"/><rect x="144.60" y="157.13" width="1.90" height="4.34" rx="0.7"/><rect x="147.10" y="157.17" width="1.84" height="4.27" rx="0.7"/><rect x="149.53" y="157.16" width="0.97" height="4.28" rx="0.7"/><rect x="157.60" y="156.90" width="2.00" height="4.79" rx="0.7"/><rect x="160.20" y="156.90" width="1.84" height="4.79" rx="0.7"/><rect x="162.64" y="156.94" width="1.69" height="4.71" rx="0.7"/><rect x="164.93" y="157.28" width="2.04" height="4.05" rx="0.7"/><rect x="167.56" y="156.90" width="0.94" height="4.81" rx="0.7"/><rect x="185.60" y="157.13" width="1.91" height="4.35" rx="0.7"/><rect x="188.11" y="157.11" width="2.01" height="4.37" rx="0.7"/></g>
<path d="M51.50 155.66Q54.20 159.30 51.50 162.94M55.70 155.75Q56.30 159.30 55.70 162.85" stroke="#A000C0" stroke-width="1.6" fill="none" stroke-linecap="round"/>
<rect x="35.60" y="157.67" width="1.78" height="1.7" fill="#FFE000"/><rect x="73.94" y="158.19" width="1.70" height="1.7" fill="#FF2020"/><rect x="90.60" y="158.69" width="2.05" height="1.7" fill="#6080FF"/><rect x="124.60" y="157.91" width="1.92" height="1.7" fill="#FFE000"/><rect x="162.64" y="159.64" width="1.69" height="1.7" fill="#FF2020"/>
<g fill="#80F060"><rect x="20.60" y="166.96" width="1.68" height="3.59" rx="0.7"/><rect x="22.88" y="166.75" width="1.64" height="4.00" rx="0.7"/><rect x="25.12" y="166.99" width="1.88" height="3.52" rx="0.7"/><rect x="35.60" y="166.94" width="2.03" height="3.62" rx="0.7"/><rect x="71.60" y="166.84" width="1.69" height="3.81" rx="0.7"/><rect x="73.89" y="166.67" width="1.77" height="4.16" rx="0.7"/><rect x="76.26" y="166.64" width="1.67" height="4.22" rx="0.7"/><rect x="90.60" y="166.67" width="1.64" height="4.15" rx="0.7"/><rect x="92.84" y="166.96" width="1.93" height="3.58" rx="0.7"/><rect x="110.60" y="166.93" width="1.84" height="3.64" rx="0.7"/><rect x="113.04" y="166.97" width="0.96" height="3.57" rx="0.7"/><rect x="124.60" y="166.63" width="1.79" height="4.23" rx="0.7"/><rect x="126.99" y="166.66" width="1.51" height="4.18" rx="0.7"/><rect x="144.60" y="166.93" width="1.66" height="3.64" rx="0.7"/><rect x="146.86" y="167.03" width="2.04" height="3.45" rx="0.7"/><rect x="149.50" y="166.93" width="1.00" height="3.65" rx="0.7"/><rect x="157.60" y="167.04" width="2.08" height="3.41" rx="0.7"/><rect x="160.28" y="166.91" width="2.00" height="3.69" rx="0.7"/><rect x="162.88" y="167.05" width="1.68" height="3.40" rx="0.7"/><rect x="165.16" y="166.83" width="2.01" height="3.84" rx="0.7"/><rect x="167.77" y="166.87" width="1.70" height="3.77" rx="0.7"/><rect x="185.60" y="166.96" width="2.05" height="3.58" rx="0.7"/><rect x="188.25" y="166.99" width="1.89" height="3.52" rx="0.7"/></g>
<path d="M53.00 166.03Q51.20 168.75 53.00 171.47M55.00 166.02Q57.70 168.75 55.00 171.48M58.80 165.98Q60.60 168.75 58.80 171.52" stroke="#80F060" stroke-width="1.6" fill="none" stroke-linecap="round"/>
<g fill="#8000FF"><rect x="20.60" y="174.33" width="1.70" height="3.24" rx="0.7"/><rect x="22.90" y="174.52" width="1.95" height="2.85" rx="0.7"/><rect x="25.45" y="174.56" width="1.65" height="2.78" rx="0.7"/><rect x="27.71" y="174.42" width="1.90" height="3.05" rx="0.7"/><rect x="30.21" y="174.52" width="1.29" height="2.86" rx="0.7"/><rect x="35.60" y="174.35" width="1.91" height="3.20" rx="0.7"/><rect x="38.11" y="174.39" width="2.00" height="3.11" rx="0.7"/><rect x="40.71" y="174.57" width="1.71" height="2.76" rx="0.7"/><rect x="43.02" y="174.45" width="0.98" height="2.99" rx="0.7"/><rect x="71.60" y="174.33" width="1.81" height="3.23" rx="0.7"/><rect x="74.01" y="174.37" width="1.68" height="3.17" rx="0.7"/><rect x="76.29" y="174.40" width="1.73" height="3.10" rx="0.7"/><rect x="78.62" y="174.58" width="2.08" height="2.74" rx="0.7"/><rect x="81.30" y="174.40" width="1.70" height="3.11" rx="0.7"/><rect x="90.60" y="174.47" width="2.02" height="2.96" rx="0.7"/><rect x="93.22" y="174.26" width="2.06" height="3.37" rx="0.7"/><rect x="95.88" y="174.47" width="1.65" height="2.96" rx="0.7"/><rect x="98.13" y="174.31" width="1.73" height="3.28" rx="0.7"/><rect x="110.60" y="174.33" width="2.05" height="3.24" rx="0.7"/><rect x="113.25" y="174.40" width="2.03" height="3.11" rx="0.7"/><rect x="115.88" y="174.49" width="2.04" height="2.92" rx="0.7"/><rect x="124.60" y="174.34" width="1.67" height="3.21" rx="0.7"/><rect x="126.87" y="174.58" width="1.83" height="2.74" rx="0.7"/><rect x="144.60" y="174.54" width="2.00" height="2.81" rx="0.7"/><rect x="147.20" y="174.56" width="1.73" height="2.78" rx="0.7"/><rect x="149.53" y="174.53" width="1.91" height="2.83" rx="0.7"/><rect x="157.60" y="174.40" width="1.76" height="3.09" rx="0.7"/><rect x="159.96" y="174.58" width="2.07" height="2.73" rx="0.7"/><rect x="162.63" y="174.34" width="2.05" height="3.22" rx="0.7"/><rect x="165.29" y="174.31" width="1.74" height="3.28" rx="0.7"/><rect x="167.63" y="174.43" width="1.92" height="3.03" rx="0.7"/><rect x="170.14" y="174.44" width="1.73" height="3.02" rx="0.7"/><rect x="172.47" y="174.56" width="1.53" height="2.78" rx="0.7"/><rect x="185.60" y="174.50" width="1.70" height="2.90" rx="0.7"/><rect x="187.90" y="174.39" width="1.84" height="3.11" rx="0.7"/><rect x="190.34" y="174.55" width="1.98" height="2.79" rx="0.7"/></g>
<path d="M51.50 174.01Q54.20 175.95 51.50 177.89M55.30 174.09Q57.10 175.95 55.30 177.81M60.00 174.19Q58.20 175.95 60.00 177.71" stroke="#8000FF" stroke-width="1.6" fill="none" stroke-linecap="round"/>
<g fill="#C8C000"><rect x="20.60" y="179.59" width="1.67" height="3.31" rx="0.7"/><rect x="22.87" y="179.81" width="1.72" height="2.87" rx="0.7"/><rect x="25.20" y="179.76" width="1.30" height="2.99" rx="0.7"/><rect x="35.60" y="179.68" width="1.62" height="3.15" rx="0.7"/><rect x="37.82" y="179.69" width="1.90" height="3.13" rx="0.7"/><rect x="40.32" y="179.81" width="1.78" height="2.88" rx="0.7"/><rect x="42.70" y="179.56" width="0.80" height="3.38" rx="0.7"/><rect x="51.60" y="179.62" width="2.05" height="3.27" rx="0.7"/><rect x="54.25" y="179.72" width="1.64" height="3.07" rx="0.7"/><rect x="56.49" y="179.81" width="2.06" height="2.89" rx="0.7"/><rect x="71.60" y="179.77" width="1.92" height="2.96" rx="0.7"/><rect x="74.12" y="179.74" width="1.65" height="3.01" rx="0.7"/><rect x="76.36" y="179.84" width="1.62" height="2.81" rx="0.7"/><rect x="90.60" y="179.58" width="1.98" height="3.35" rx="0.7"/><rect x="93.18" y="179.59" width="2.00" height="3.31" rx="0.7"/><rect x="95.78" y="179.67" width="1.63" height="3.15" rx="0.7"/><rect x="98.01" y="179.80" width="1.94" height="2.90" rx="0.7"/><rect x="110.60" y="179.68" width="2.05" height="3.14" rx="0.7"/><rect x="113.25" y="179.74" width="1.86" height="3.01" rx="0.7"/><rect x="115.72" y="179.79" width="1.75" height="2.93" rx="0.7"/><rect x="124.60" y="179.69" width="1.67" height="3.12" rx="0.7"/><rect x="126.87" y="179.80" width="1.86" height="2.90" rx="0.7"/><rect x="144.60" y="179.84" width="1.87" height="2.82" rx="0.7"/><rect x="147.07" y="179.70" width="2.05" height="3.11" rx="0.7"/><rect x="157.60" y="179.64" width="1.96" height="3.22" rx="0.7"/><rect x="160.16" y="179.66" width="1.83" height="3.19" rx="0.7"/><rect x="162.60" y="179.71" width="1.80" height="3.09" rx="0.7"/><rect x="164.99" y="179.79" width="2.04" height="2.92" rx="0.7"/><rect x="167.63" y="179.88" width="1.87" height="2.74" rx="0.7"/><rect x="185.60" y="179.71" width="1.70" height="3.09" rx="0.7"/><rect x="187.90" y="179.58" width="1.80" height="3.34" rx="0.7"/><rect x="190.31" y="179.78" width="2.07" height="2.94" rx="0.7"/></g>
<rect x="37.82" y="180.87" width="1.90" height="1.7" fill="#FFFFFF"/><rect x="144.60" y="180.92" width="1.87" height="1.7" fill="#FFFFFF"/>
<g fill="#00A020"><rect x="20.60" y="184.64" width="1.74" height="3.52" rx="0.7"/><rect x="22.94" y="184.93" width="1.72" height="2.93" rx="0.7"/><rect x="25.26" y="184.76" width="1.63" height="3.28" rx="0.7"/><rect x="35.60" y="184.83" width="1.90" height="3.14" rx="0.7"/><rect x="38.10" y="184.77" width="1.93" height="3.26" rx="0.7"/><rect x="51.60" y="184.83" width="2.01" height="3.14" rx="0.7"/><rect x="54.21" y="184.77" width="1.98" height="3.26" rx="0.7"/><rect x="56.79" y="184.71" width="2.08" height="3.37" rx="0.7"/><rect x="71.60" y="184.81" width="2.06" height="3.19" rx="0.7"/><rect x="74.26" y="184.90" width="1.93" height="2.99" rx="0.7"/><rect x="76.79" y="184.74" width="1.71" height="3.33" rx="0.7"/><rect x="79.10" y="184.66" width="0.90" height="3.49" rx="0.7"/><rect x="90.60" y="184.65" width="1.66" height="3.50" rx="0.7"/><rect x="110.60" y="184.60" width="2.05" height="3.60" rx="0.7"/><rect x="113.25" y="184.73" width="1.74" height="3.34" rx="0.7"/><rect x="124.60" y="184.70" width="1.92" height="3.39" rx="0.7"/><rect x="127.12" y="184.92" width="1.81" height="2.96" rx="0.7"/><rect x="129.53" y="184.76" width="1.81" height="3.28" rx="0.7"/><rect x="131.94" y="184.81" width="1.67" height="3.17" rx="0.7"/><rect x="134.21" y="184.90" width="1.29" height="3.00" rx="0.7"/><rect x="144.60" y="184.86" width="2.02" height="3.09" rx="0.7"/><rect x="147.22" y="184.92" width="1.91" height="2.97" rx="0.7"/><rect x="157.60" y="184.71" width="2.02" height="3.38" rx="0.7"/><rect x="160.22" y="184.83" width="1.75" height="3.14" rx="0.7"/><rect x="162.57" y="184.77" width="1.78" height="3.27" rx="0.7"/><rect x="164.95" y="184.72" width="1.90" height="3.35" rx="0.7"/><rect x="167.45" y="184.69" width="1.62" height="3.42" rx="0.7"/><rect x="169.67" y="184.82" width="0.83" height="3.16" rx="0.7"/><rect x="185.60" y="184.76" width="1.76" height="3.27" rx="0.7"/><rect x="187.96" y="184.80" width="2.00" height="3.20" rx="0.7"/><rect x="190.55" y="184.87" width="0.95" height="3.06" rx="0.7"/></g>
<g fill="#2070E0"><rect x="20.60" y="186.40" width="1.74" height="1.76"/><rect x="22.94" y="186.40" width="1.72" height="1.47"/><rect x="25.26" y="186.40" width="1.63" height="1.64"/><rect x="35.60" y="186.40" width="1.90" height="1.57"/><rect x="38.10" y="186.40" width="1.93" height="1.63"/><rect x="51.60" y="186.40" width="2.01" height="1.57"/><rect x="54.21" y="186.40" width="1.98" height="1.63"/><rect x="56.79" y="186.40" width="2.08" height="1.69"/><rect x="71.60" y="186.40" width="2.06" height="1.59"/><rect x="74.26" y="186.40" width="1.93" height="1.50"/><rect x="76.79" y="186.40" width="1.71" height="1.66"/><rect x="79.10" y="186.40" width="0.90" height="1.74"/><rect x="90.60" y="186.40" width="1.66" height="1.75"/><rect x="110.60" y="186.40" width="2.05" height="1.80"/><rect x="113.25" y="186.40" width="1.74" height="1.67"/><rect x="124.60" y="186.40" width="1.92" height="1.70"/><rect x="127.12" y="186.40" width="1.81" height="1.48"/><rect x="129.53" y="186.40" width="1.81" height="1.64"/><rect x="131.94" y="186.40" width="1.67" height="1.59"/><rect x="134.21" y="186.40" width="1.29" height="1.50"/><rect x="144.60" y="186.40" width="2.02" height="1.54"/><rect x="147.22" y="186.40" width="1.91" height="1.48"/><rect x="157.60" y="186.40" width="2.02" height="1.69"/><rect x="160.22" y="186.40" width="1.75" height="1.57"/><rect x="162.57" y="186.40" width="1.78" height="1.63"/><rect x="164.95" y="186.40" width="1.90" height="1.68"/><rect x="167.45" y="186.40" width="1.62" height="1.71"/><rect x="169.67" y="186.40" width="0.83" height="1.58"/><rect x="185.60" y="186.40" width="1.76" height="1.64"/><rect x="187.96" y="186.40" width="2.00" height="1.60"/><rect x="190.55" y="186.40" width="0.95" height="1.53"/></g>
<g fill="#208898"><rect x="20.60" y="190.31" width="2.01" height="2.57" rx="0.7"/><rect x="23.21" y="190.23" width="2.08" height="2.74" rx="0.7"/><rect x="25.88" y="190.31" width="1.73" height="2.57" rx="0.7"/><rect x="35.60" y="190.15" width="2.08" height="2.90" rx="0.7"/><rect x="38.28" y="190.40" width="2.07" height="2.40" rx="0.7"/><rect x="40.95" y="190.15" width="1.74" height="2.91" rx="0.7"/><rect x="51.60" y="190.25" width="1.76" height="2.70" rx="0.7"/><rect x="53.96" y="190.23" width="1.76" height="2.74" rx="0.7"/><rect x="56.32" y="190.17" width="1.82" height="2.87" rx="0.7"/><rect x="58.74" y="190.28" width="1.26" height="2.63" rx="0.7"/><rect x="71.60" y="190.40" width="1.84" height="2.40" rx="0.7"/><rect x="74.04" y="190.28" width="1.94" height="2.65" rx="0.7"/><rect x="76.57" y="190.39" width="1.62" height="2.42" rx="0.7"/><rect x="78.79" y="190.29" width="1.72" height="2.62" rx="0.7"/><rect x="81.12" y="190.22" width="0.88" height="2.76" rx="0.7"/><rect x="90.60" y="190.36" width="2.06" height="2.47" rx="0.7"/><rect x="93.26" y="190.29" width="1.70" height="2.63" rx="0.7"/><rect x="95.56" y="190.18" width="1.81" height="2.83" rx="0.7"/><rect x="97.97" y="190.24" width="2.03" height="2.73" rx="0.7"/><rect x="110.60" y="190.19" width="1.94" height="2.82" rx="0.7"/><rect x="113.14" y="190.30" width="1.66" height="2.59" rx="0.7"/><rect x="115.40" y="190.39" width="1.79" height="2.42" rx="0.7"/><rect x="117.79" y="190.36" width="1.21" height="2.48" rx="0.7"/><rect x="124.60" y="190.32" width="1.93" height="2.55" rx="0.7"/><rect x="127.13" y="190.13" width="1.78" height="2.93" rx="0.7"/><rect x="129.50" y="190.12" width="1.86" height="2.95" rx="0.7"/><rect x="131.96" y="190.26" width="1.91" height="2.69" rx="0.7"/><rect x="134.48" y="190.35" width="2.00" height="2.50" rx="0.7"/><rect x="137.08" y="190.29" width="2.04" height="2.62" rx="0.7"/><rect x="144.60" y="190.24" width="1.64" height="2.71" rx="0.7"/><rect x="146.84" y="190.24" width="1.67" height="2.72" rx="0.7"/><rect x="149.11" y="190.20" width="1.91" height="2.81" rx="0.7"/><rect x="157.60" y="190.41" width="1.94" height="2.39" rx="0.7"/><rect x="160.14" y="190.20" width="1.62" height="2.80" rx="0.7"/><rect x="162.36" y="190.14" width="1.88" height="2.92" rx="0.7"/><rect x="164.84" y="190.38" width="1.80" height="2.44" rx="0.7"/><rect x="167.24" y="190.40" width="1.62" height="2.40" rx="0.7"/><rect x="169.46" y="190.18" width="1.70" height="2.83" rx="0.7"/><rect x="171.76" y="190.15" width="1.88" height="2.89" rx="0.7"/><rect x="174.25" y="190.26" width="1.75" height="2.68" rx="0.7"/><rect x="185.60" y="190.35" width="1.68" height="2.50" rx="0.7"/><rect x="187.88" y="190.37" width="1.90" height="2.47" rx="0.7"/><rect x="190.38" y="190.26" width="1.86" height="2.68" rx="0.7"/></g>
<g fill="#D0D0D0"><rect x="20.60" y="195.62" width="1.63" height="1.56" rx="0.7"/><rect x="35.60" y="195.54" width="2.07" height="1.72" rx="0.7"/><rect x="38.27" y="195.55" width="1.73" height="1.69" rx="0.7"/><rect x="51.60" y="195.51" width="2.00" height="1.78" rx="0.7"/><rect x="54.20" y="195.53" width="1.30" height="1.75" rx="0.7"/><rect x="71.60" y="195.59" width="1.68" height="1.62" rx="0.7"/><rect x="73.88" y="195.63" width="1.12" height="1.54" rx="0.7"/><rect x="90.60" y="195.47" width="1.91" height="1.85" rx="0.7"/><rect x="93.11" y="195.62" width="2.07" height="1.55" rx="0.7"/><rect x="110.60" y="195.52" width="1.71" height="1.77" rx="0.7"/><rect x="124.60" y="195.59" width="1.62" height="1.61" rx="0.7"/><rect x="144.60" y="195.49" width="1.80" height="1.82" rx="0.7"/><rect x="157.60" y="195.62" width="1.64" height="1.55" rx="0.7"/><rect x="159.84" y="195.59" width="1.73" height="1.61" rx="0.7"/><rect x="162.16" y="195.52" width="1.34" height="1.75" rx="0.7"/><rect x="185.60" y="195.63" width="1.70" height="1.53" rx="0.7"/></g>
<g fill="#FFFF00"><rect x="20.60" y="201.29" width="2.03" height="3.22" rx="0.7"/><rect x="23.23" y="201.14" width="1.73" height="3.52" rx="0.7"/><rect x="25.56" y="201.21" width="1.65" height="3.37" rx="0.7"/><rect x="27.81" y="201.31" width="1.89" height="3.19" rx="0.7"/><rect x="35.60" y="201.45" width="1.95" height="2.91" rx="0.7"/><rect x="38.15" y="201.39" width="1.66" height="3.01" rx="0.7"/><rect x="40.41" y="201.14" width="1.62" height="3.52" rx="0.7"/><rect x="42.63" y="201.34" width="1.79" height="3.13" rx="0.7"/><rect x="51.60" y="201.22" width="1.77" height="3.36" rx="0.7"/><rect x="53.97" y="201.13" width="1.82" height="3.54" rx="0.7"/><rect x="56.39" y="201.29" width="1.80" height="3.22" rx="0.7"/><rect x="58.79" y="201.36" width="1.82" height="3.09" rx="0.7"/><rect x="61.21" y="201.38" width="1.68" height="3.03" rx="0.7"/><rect x="63.49" y="201.26" width="1.01" height="3.29" rx="0.7"/><rect x="71.60" y="201.37" width="1.99" height="3.06" rx="0.7"/><rect x="74.19" y="201.31" width="1.72" height="3.18" rx="0.7"/><rect x="76.51" y="201.35" width="1.89" height="3.10" rx="0.7"/><rect x="79.00" y="201.15" width="1.71" height="3.50" rx="0.7"/><rect x="81.31" y="201.10" width="2.06" height="3.60" rx="0.7"/><rect x="90.60" y="201.10" width="1.82" height="3.60" rx="0.7"/><rect x="93.02" y="201.27" width="1.81" height="3.25" rx="0.7"/><rect x="95.43" y="201.15" width="1.66" height="3.50" rx="0.7"/><rect x="97.69" y="201.44" width="1.98" height="2.91" rx="0.7"/><rect x="100.27" y="201.45" width="1.68" height="2.90" rx="0.7"/><rect x="102.55" y="201.18" width="1.94" height="3.44" rx="0.7"/><rect x="110.60" y="201.14" width="1.70" height="3.53" rx="0.7"/><rect x="112.90" y="201.39" width="1.98" height="3.03" rx="0.7"/><rect x="115.48" y="201.35" width="1.66" height="3.10" rx="0.7"/><rect x="117.74" y="201.33" width="1.80" height="3.14" rx="0.7"/><rect x="124.60" y="201.23" width="1.84" height="3.34" rx="0.7"/><rect x="127.04" y="201.12" width="2.02" height="3.56" rx="0.7"/><rect x="129.66" y="201.17" width="1.79" height="3.46" rx="0.7"/><rect x="132.05" y="201.45" width="2.04" height="2.91" rx="0.7"/><rect x="134.69" y="201.10" width="1.83" height="3.60" rx="0.7"/><rect x="137.13" y="201.42" width="2.05" height="2.96" rx="0.7"/><rect x="144.60" y="201.24" width="1.74" height="3.32" rx="0.7"/><rect x="146.94" y="201.31" width="1.94" height="3.18" rx="0.7"/><rect x="149.48" y="201.18" width="1.82" height="3.43" rx="0.7"/><rect x="151.90" y="201.26" width="1.60" height="3.28" rx="0.7"/><rect x="157.60" y="201.25" width="2.06" height="3.29" rx="0.7"/><rect x="160.26" y="201.27" width="1.85" height="3.26" rx="0.7"/><rect x="162.71" y="201.25" width="1.93" height="3.30" rx="0.7"/><rect x="165.25" y="201.18" width="1.67" height="3.44" rx="0.7"/><rect x="167.52" y="201.14" width="2.04" height="3.51" rx="0.7"/><rect x="170.16" y="201.11" width="1.95" height="3.59" rx="0.7"/><rect x="172.70" y="201.34" width="1.63" height="3.12" rx="0.7"/><rect x="174.94" y="201.13" width="1.78" height="3.54" rx="0.7"/><rect x="185.60" y="201.10" width="1.97" height="3.60" rx="0.7"/><rect x="188.17" y="201.27" width="1.72" height="3.27" rx="0.7"/><rect x="190.49" y="201.30" width="2.07" height="3.21" rx="0.7"/><rect x="193.15" y="201.21" width="1.85" height="3.38" rx="0.7"/><rect x="195.61" y="201.27" width="0.89" height="3.25" rx="0.7"/></g>
<rect x="58.79" y="201.72" width="1.82" height="1.7" fill="#A040E0"/><rect x="93.02" y="202.39" width="1.81" height="1.7" fill="#A040E0"/><rect x="110.60" y="202.69" width="1.70" height="1.7" fill="#FF60C0"/>
<g fill="#A030C0"><rect x="20.60" y="209.56" width="1.71" height="1.78" rx="0.7"/><rect x="35.60" y="209.54" width="1.90" height="1.82" rx="0.7"/><rect x="51.60" y="209.65" width="0.90" height="1.60" rx="0.7"/><rect x="71.60" y="209.53" width="2.07" height="1.84" rx="0.7"/><rect x="110.60" y="209.65" width="0.90" height="1.60" rx="0.7"/><rect x="124.60" y="209.54" width="0.90" height="1.83" rx="0.7"/><rect x="144.60" y="209.64" width="1.73" height="1.63" rx="0.7"/><rect x="157.60" y="209.65" width="2.07" height="1.59" rx="0.7"/><rect x="160.27" y="209.67" width="1.78" height="1.56" rx="0.7"/><rect x="162.65" y="209.66" width="1.35" height="1.58" rx="0.7"/><rect x="185.60" y="209.59" width="1.94" height="1.71" rx="0.7"/></g>
<g fill="#FF80C0"><rect x="20.60" y="214.45" width="1.84" height="4.79" rx="0.7"/><rect x="23.04" y="214.46" width="1.62" height="4.78" rx="0.7"/><rect x="25.26" y="214.49" width="1.68" height="4.73" rx="0.7"/><rect x="35.60" y="214.74" width="1.95" height="4.21" rx="0.7"/><rect x="38.15" y="214.51" width="1.95" height="4.67" rx="0.7"/><rect x="40.70" y="214.49" width="1.73" height="4.71" rx="0.7"/><rect x="71.60" y="214.32" width="1.69" height="5.07" rx="0.7"/><rect x="73.89" y="214.61" width="2.01" height="4.49" rx="0.7"/><rect x="76.50" y="214.46" width="1.71" height="4.78" rx="0.7"/><rect x="78.82" y="214.56" width="1.18" height="4.57" rx="0.7"/><rect x="90.60" y="214.36" width="1.64" height="4.98" rx="0.7"/><rect x="92.84" y="214.75" width="1.76" height="4.19" rx="0.7"/><rect x="95.19" y="214.32" width="1.76" height="5.05" rx="0.7"/><rect x="97.56" y="214.59" width="1.44" height="4.53" rx="0.7"/><rect x="110.60" y="214.66" width="1.89" height="4.37" rx="0.7"/><rect x="113.09" y="214.79" width="1.88" height="4.13" rx="0.7"/><rect x="124.60" y="214.32" width="1.84" height="5.07" rx="0.7"/><rect x="127.04" y="214.43" width="1.85" height="4.83" rx="0.7"/><rect x="129.48" y="214.44" width="1.77" height="4.82" rx="0.7"/><rect x="131.86" y="214.48" width="1.74" height="4.73" rx="0.7"/><rect x="134.20" y="214.56" width="1.30" height="4.57" rx="0.7"/><rect x="144.60" y="214.65" width="1.99" height="4.40" rx="0.7"/><rect x="147.19" y="214.76" width="1.79" height="4.17" rx="0.7"/><rect x="149.57" y="214.50" width="0.93" height="4.70" rx="0.7"/><rect x="157.60" y="214.46" width="1.96" height="4.78" rx="0.7"/><rect x="160.16" y="214.77" width="1.93" height="4.16" rx="0.7"/><rect x="162.69" y="214.80" width="1.97" height="4.11" rx="0.7"/><rect x="165.26" y="214.74" width="1.80" height="4.23" rx="0.7"/><rect x="167.66" y="214.33" width="1.79" height="5.05" rx="0.7"/></g>
<path d="M51.50 213.36Q54.20 216.85 51.50 220.34M56.80 213.26Q54.10 216.85 56.80 220.44M186.20 213.13Q186.80 216.85 186.20 220.57M190.80 213.70Q188.10 216.85 190.80 220.00" stroke="#FF80C0" stroke-width="1.6" fill="none" stroke-linecap="round"/>
</g>
<text x="26" y="43.3" font-size="5.6" text-anchor="middle" font-weight="normal" font-style="normal" fill="#000" >1</text>
<text x="42.5" y="43.3" font-size="5.6" text-anchor="middle" font-weight="normal" font-style="normal" fill="#000" >2</text>
<text x="61" y="43.3" font-size="5.6" text-anchor="middle" font-weight="normal" font-style="normal" fill="#000" >3</text>
<text x="82" y="43.3" font-size="5.6" text-anchor="middle" font-weight="normal" font-style="normal" fill="#000" >4</text>
<text x="100" y="43.3" font-size="5.6" text-anchor="middle" font-weight="normal" font-style="normal" fill="#000" >5</text>
<text x="116.5" y="43.3" font-size="5.6" text-anchor="middle" font-weight="normal" font-style="normal" fill="#000" >6</text>
<text x="131" y="43.3" font-size="5.6" text-anchor="middle" font-weight="normal" font-style="normal" fill="#000" >7</text>
<text x="150" y="43.3" font-size="5.6" text-anchor="middle" font-weight="normal" font-style="normal" fill="#000" >8</text>
<text x="170" y="43.3" font-size="5.6" text-anchor="middle" font-weight="normal" font-style="normal" fill="#000" >9</text>
<text x="194" y="43.3" font-size="5.6" text-anchor="middle" font-weight="normal" font-style="normal" fill="#000" >10</text>
<text x="18.3" y="52.5" font-size="5.8" text-anchor="end" font-weight="normal" font-style="normal" fill="#000" >1</text>
<text x="18.3" y="64" font-size="5.8" text-anchor="end" font-weight="normal" font-style="normal" fill="#000" >2</text>
<text x="18.3" y="73.5" font-size="5.8" text-anchor="end" font-weight="normal" font-style="normal" fill="#000" >3</text>
<text x="18.3" y="82.5" font-size="5.8" text-anchor="end" font-weight="normal" font-style="normal" fill="#000" >4</text>
<text x="18.3" y="91.5" font-size="5.8" text-anchor="end" font-weight="normal" font-style="normal" fill="#000" >5</text>
<text x="18.3" y="100" font-size="5.8" text-anchor="end" font-weight="normal" font-style="normal" fill="#000" >6</text>
<text x="18.3" y="109" font-size="5.8" text-anchor="end" font-weight="normal" font-style="normal" fill="#000" >7</text>
<text x="18.3" y="118.5" font-size="5.8" text-anchor="end" font-weight="normal" font-style="normal" fill="#000" >8</text>
<text x="18.3" y="127.5" font-size="5.8" text-anchor="end" font-weight="normal" font-style="normal" fill="#000" >9</text>
<text x="18.3" y="135.5" font-size="5.8" text-anchor="end" font-weight="normal" font-style="normal" fill="#000" >10</text>
<text x="18.3" y="143" font-size="5.8" text-anchor="end" font-weight="normal" font-style="normal" fill="#000" >11</text>
<text x="18.3" y="151.5" font-size="5.8" text-anchor="end" font-weight="normal" font-style="normal" fill="#000" >12</text>
<text x="18.3" y="161" font-size="5.8" text-anchor="end" font-weight="normal" font-style="normal" fill="#000" >13</text>
<text x="18.3" y="172" font-size="5.8" text-anchor="end" font-weight="normal" font-style="normal" fill="#000" >14</text>
<text x="18.3" y="178.5" font-size="5.8" text-anchor="end" font-weight="normal" font-style="normal" fill="#000" >15</text>
<text x="18.3" y="184" font-size="5.8" text-anchor="end" font-weight="normal" font-style="normal" fill="#000" >16</text>
<text x="18.3" y="189" font-size="5.8" text-anchor="end" font-weight="normal" font-style="normal" fill="#000" >17</text>
<text x="18.3" y="194" font-size="5.8" text-anchor="end" font-weight="normal" font-style="normal" fill="#000" >18</text>
<text x="18.3" y="199" font-size="5.8" text-anchor="end" font-weight="normal" font-style="normal" fill="#000" >19</text>
<text x="18.3" y="204" font-size="5.8" text-anchor="end" font-weight="normal" font-style="normal" fill="#000" >20</text>
<text x="18.3" y="208.5" font-size="5.8" text-anchor="end" font-weight="normal" font-style="normal" fill="#000" >21</text>
<text x="18.3" y="212.5" font-size="5.8" text-anchor="end" font-weight="normal" font-style="normal" fill="#000" >22</text>
<text x="18.3" y="217" font-size="5.8" text-anchor="end" font-weight="normal" font-style="normal" fill="#000" >X</text>
<text x="18.3" y="221.5" font-size="5.8" text-anchor="end" font-weight="normal" font-style="normal" fill="#000" >Y</text>
<text x="0" y="0" font-size="9.3" text-anchor="middle" font-weight="normal" font-style="normal" fill="#000" transform="translate(7.7,133.3) rotate(-90)">Chromosome</text>
<text x="-0.5" y="252.9" font-size="14" text-anchor="start" font-weight="bold" font-style="normal" fill="#000" >e</text>
<text x="111" y="252.3" font-size="9.3" text-anchor="middle" font-weight="normal" font-style="normal" fill="#000" >CAM338</text>
<text x="111" y="263" font-size="9.3" text-anchor="middle" font-weight="normal" font-style="normal" fill="#000" >Cell number</text>
<rect x="20" y="274.8" width="181.4" height="172.8" fill="#000"/>
<path d="M33.2 274.8V447.6M48.3 274.8V447.6M66.4 274.8V447.6M101.2 274.8V447.6M118.9 274.8V447.6M135.9 274.8V447.6M153.8 274.8V447.6M174.6 274.8V447.6M190.8 274.8V447.6M20 286.3H201.4M20 298.8H201.4M20 311H201.4M20 321H201.4M20 330.5H201.4M20 340.2H201.4M20 347.7H201.4M20 355.5H201.4M20 364.4H201.4M20 372.8H201.4M20 380.5H201.4M20 387.6H201.4M20 394.2H201.4M20 399.3H201.4M20 408H201.4M20 413.1H201.4M20 416.7H201.4M20 420.5H201.4M20 424.7H201.4M20 431.5H201.4M20 435H201.4M20 438.9H201.4" stroke="#333" stroke-width="0.5" fill="none"/>
<g filter="url(#kb)">
<g fill="#00F000"><rect x="20.60" y="277.35" width="2.78" height="6.41" rx="0.7"/><rect x="24.23" y="277.10" width="2.55" height="6.90" rx="0.7"/><rect x="27.63" y="277.47" width="2.45" height="6.15" rx="0.7"/><rect x="30.93" y="277.39" width="1.07" height="6.32" rx="0.7"/><rect x="33.20" y="276.97" width="2.72" height="7.16" rx="0.7"/><rect x="36.77" y="276.88" width="2.91" height="7.34" rx="0.7"/><rect x="40.53" y="277.46" width="2.63" height="6.18" rx="0.7"/><rect x="44.01" y="277.52" width="2.69" height="6.07" rx="0.7"/><rect x="48.90" y="277.25" width="2.41" height="6.60" rx="0.7"/><rect x="52.16" y="277.55" width="2.36" height="6.01" rx="0.7"/><rect x="55.36" y="277.04" width="2.42" height="7.01" rx="0.7"/><rect x="58.63" y="277.26" width="2.83" height="6.58" rx="0.7"/><rect x="67.00" y="277.20" width="2.74" height="6.71" rx="0.7"/><rect x="70.59" y="277.25" width="2.52" height="6.59" rx="0.7"/><rect x="73.97" y="276.91" width="2.85" height="7.28" rx="0.7"/><rect x="77.67" y="277.25" width="2.49" height="6.60" rx="0.7"/><rect x="81.01" y="277.43" width="2.53" height="6.24" rx="0.7"/><rect x="84.39" y="277.18" width="2.58" height="6.74" rx="0.7"/><rect x="87.83" y="277.28" width="2.40" height="6.54" rx="0.7"/><rect x="91.08" y="276.98" width="2.35" height="7.14" rx="0.7"/><rect x="94.28" y="277.09" width="2.52" height="6.92" rx="0.7"/><rect x="101.80" y="277.30" width="2.58" height="6.49" rx="0.7"/><rect x="105.23" y="276.94" width="2.39" height="7.22" rx="0.7"/><rect x="108.47" y="276.95" width="1.73" height="7.20" rx="0.7"/><rect x="136.50" y="277.40" width="2.54" height="6.30" rx="0.7"/><rect x="139.89" y="277.41" width="2.47" height="6.28" rx="0.7"/><rect x="143.21" y="277.02" width="2.43" height="7.05" rx="0.7"/><rect x="154.40" y="277.10" width="2.86" height="6.91" rx="0.7"/><rect x="158.11" y="277.05" width="2.75" height="6.99" rx="0.7"/><rect x="161.71" y="277.18" width="2.60" height="6.75" rx="0.7"/><rect x="165.16" y="276.91" width="1.64" height="7.29" rx="0.7"/><rect x="175.20" y="277.08" width="2.87" height="6.95" rx="0.7"/><rect x="178.92" y="277.21" width="2.39" height="6.69" rx="0.7"/><rect x="182.16" y="276.88" width="2.86" height="7.34" rx="0.7"/><rect x="191.40" y="277.20" width="2.94" height="6.71" rx="0.7"/><rect x="195.19" y="277.17" width="2.76" height="6.75" rx="0.7"/><rect x="198.80" y="277.23" width="2.00" height="6.65" rx="0.7"/></g>
<path d="M120.90 275.72Q119.10 280.55 120.90 285.38M124.70 275.75Q122.00 280.55 124.70 285.35M126.70 275.86Q128.50 280.55 126.70 285.24" stroke="#00F000" stroke-width="1.6" fill="none" stroke-linecap="round"/>
<rect x="30.93" y="280.07" width="1.07" height="1.7" fill="#00C0E0"/><rect x="55.36" y="281.67" width="2.42" height="1.7" fill="#FF3030"/><rect x="81.01" y="279.83" width="2.53" height="1.7" fill="#2040FF"/><rect x="198.80" y="281.14" width="2.00" height="1.7" fill="#2040FF"/>
<g fill="#FF0000"><rect x="20.00" y="288.95" width="2.33" height="7.20" rx="0.7"/><rect x="23.18" y="288.65" width="2.31" height="7.80" rx="0.7"/><rect x="26.34" y="288.56" width="2.50" height="7.99" rx="0.7"/><rect x="29.69" y="288.63" width="2.89" height="7.84" rx="0.7"/><rect x="33.20" y="288.38" width="2.67" height="8.34" rx="0.7"/><rect x="36.72" y="288.52" width="2.41" height="8.05" rx="0.7"/><rect x="39.98" y="288.58" width="2.81" height="7.94" rx="0.7"/><rect x="43.64" y="288.84" width="2.38" height="7.43" rx="0.7"/><rect x="46.87" y="288.54" width="1.33" height="8.01" rx="0.7"/><rect x="48.90" y="288.88" width="2.54" height="7.35" rx="0.7"/><rect x="52.29" y="288.39" width="2.32" height="8.33" rx="0.7"/><rect x="55.45" y="288.57" width="2.53" height="7.97" rx="0.7"/><rect x="58.84" y="288.74" width="2.83" height="7.62" rx="0.7"/><rect x="67.00" y="288.91" width="2.67" height="7.29" rx="0.7"/><rect x="70.52" y="289.03" width="2.55" height="7.04" rx="0.7"/><rect x="73.92" y="288.57" width="2.66" height="7.96" rx="0.7"/><rect x="77.43" y="289.14" width="2.94" height="6.82" rx="0.7"/><rect x="81.22" y="288.73" width="2.40" height="7.64" rx="0.7"/><rect x="84.46" y="289.12" width="2.84" height="6.86" rx="0.7"/><rect x="88.15" y="288.58" width="2.85" height="7.94" rx="0.7"/><rect x="91.84" y="289.02" width="2.62" height="7.07" rx="0.7"/><rect x="95.31" y="288.42" width="2.56" height="8.27" rx="0.7"/><rect x="101.20" y="288.87" width="2.35" height="7.35" rx="0.7"/><rect x="104.40" y="288.66" width="2.90" height="7.79" rx="0.7"/><rect x="108.14" y="288.87" width="2.79" height="7.36" rx="0.7"/><rect x="111.78" y="288.89" width="2.93" height="7.33" rx="0.7"/><rect x="115.56" y="288.96" width="2.62" height="7.18" rx="0.7"/><rect x="135.90" y="288.68" width="2.32" height="7.74" rx="0.7"/><rect x="139.07" y="288.50" width="2.88" height="8.10" rx="0.7"/><rect x="142.80" y="288.85" width="2.72" height="7.41" rx="0.7"/><rect x="146.38" y="288.42" width="2.83" height="8.27" rx="0.7"/><rect x="150.06" y="288.89" width="2.75" height="7.31" rx="0.7"/><rect x="154.40" y="288.72" width="2.79" height="7.65" rx="0.7"/><rect x="158.04" y="288.69" width="2.53" height="7.73" rx="0.7"/><rect x="161.43" y="288.87" width="2.34" height="7.37" rx="0.7"/><rect x="164.61" y="288.75" width="1.19" height="7.61" rx="0.7"/><rect x="175.20" y="288.95" width="2.46" height="7.19" rx="0.7"/><rect x="178.51" y="289.14" width="2.39" height="6.81" rx="0.7"/><rect x="181.75" y="288.78" width="2.60" height="7.55" rx="0.7"/><rect x="185.20" y="289.01" width="2.50" height="7.08" rx="0.7"/><rect x="191.40" y="288.67" width="2.47" height="7.76" rx="0.7"/><rect x="194.72" y="289.09" width="2.95" height="6.92" rx="0.7"/></g>
<path d="M119.50 287.98Q120.10 292.55 119.50 297.12M124.10 287.21Q121.40 292.55 124.10 297.89M127.60 287.72Q124.90 292.55 127.60 297.38M129.60 287.96Q131.40 292.55 129.60 297.14M133.10 287.63Q134.90 292.55 133.10 297.47" stroke="#FF0000" stroke-width="1.6" fill="none" stroke-linecap="round"/>
<rect x="46.87" y="290.81" width="1.33" height="1.7" fill="#00D0E0"/><rect x="55.45" y="291.37" width="2.53" height="1.7" fill="#00D0E0"/><rect x="58.84" y="289.86" width="2.83" height="1.7" fill="#FFFFFF"/><rect x="104.40" y="293.73" width="2.90" height="1.7" fill="#0000FF"/><rect x="133.69" y="294.02" width="1.6" height="2.4" fill="#00D0E0"/><rect x="185.20" y="292.96" width="2.50" height="1.7" fill="#FFFFFF"/>
<g fill="#0000FF"><rect x="20.00" y="301.50" width="2.92" height="6.81" rx="0.7"/><rect x="23.77" y="301.58" width="2.53" height="6.64" rx="0.7"/><rect x="27.15" y="301.39" width="2.76" height="7.01" rx="0.7"/><rect x="30.76" y="301.69" width="2.24" height="6.42" rx="0.7"/><rect x="33.80" y="301.52" width="2.90" height="6.75" rx="0.7"/><rect x="37.55" y="301.75" width="2.72" height="6.30" rx="0.7"/><rect x="41.12" y="301.48" width="2.43" height="6.84" rx="0.7"/><rect x="44.40" y="301.78" width="2.73" height="6.24" rx="0.7"/><rect x="48.90" y="301.48" width="2.95" height="6.83" rx="0.7"/><rect x="52.70" y="301.79" width="2.39" height="6.23" rx="0.7"/><rect x="55.93" y="301.45" width="2.89" height="6.89" rx="0.7"/><rect x="59.67" y="301.68" width="1.13" height="6.43" rx="0.7"/><rect x="66.40" y="301.63" width="2.73" height="6.55" rx="0.7"/><rect x="69.98" y="301.88" width="2.52" height="6.03" rx="0.7"/><rect x="73.36" y="301.46" width="2.33" height="6.87" rx="0.7"/><rect x="76.53" y="301.49" width="2.63" height="6.83" rx="0.7"/><rect x="80.01" y="301.92" width="2.61" height="5.97" rx="0.7"/><rect x="83.47" y="301.20" width="2.68" height="7.40" rx="0.7"/><rect x="86.99" y="301.81" width="2.86" height="6.18" rx="0.7"/><rect x="90.70" y="301.86" width="2.81" height="6.08" rx="0.7"/><rect x="94.37" y="301.53" width="2.58" height="6.74" rx="0.7"/><rect x="97.80" y="301.44" width="2.67" height="6.92" rx="0.7"/><rect x="101.20" y="301.38" width="2.52" height="7.04" rx="0.7"/><rect x="104.57" y="301.36" width="2.78" height="7.07" rx="0.7"/><rect x="108.19" y="301.36" width="2.50" height="7.09" rx="0.7"/><rect x="111.55" y="301.72" width="2.60" height="6.36" rx="0.7"/><rect x="115.00" y="301.83" width="2.93" height="6.14" rx="0.7"/><rect x="136.50" y="301.48" width="2.47" height="6.84" rx="0.7"/><rect x="139.82" y="301.28" width="2.90" height="7.23" rx="0.7"/><rect x="143.57" y="301.54" width="2.82" height="6.73" rx="0.7"/><rect x="147.25" y="301.60" width="1.65" height="6.60" rx="0.7"/><rect x="154.40" y="301.25" width="2.44" height="7.29" rx="0.7"/><rect x="157.69" y="301.77" width="2.56" height="6.26" rx="0.7"/><rect x="161.10" y="301.44" width="2.31" height="6.92" rx="0.7"/><rect x="164.26" y="301.67" width="1.04" height="6.47" rx="0.7"/><rect x="175.20" y="301.26" width="2.55" height="7.28" rx="0.7"/><rect x="178.60" y="301.29" width="2.74" height="7.21" rx="0.7"/><rect x="182.19" y="301.75" width="2.59" height="6.29" rx="0.7"/><rect x="185.63" y="301.45" width="0.97" height="6.89" rx="0.7"/><rect x="191.40" y="301.77" width="2.97" height="6.27" rx="0.7"/><rect x="195.22" y="301.29" width="1.58" height="7.22" rx="0.7"/></g>
<path d="M119.70 300.33Q121.50 304.90 119.70 309.47M124.70 300.06Q122.00 304.90 124.70 309.74M126.40 299.47Q129.10 304.90 126.40 310.33M130.60 300.35Q131.20 304.90 130.60 309.45" stroke="#0000FF" stroke-width="1.6" fill="none" stroke-linecap="round"/>
<rect x="37.55" y="303.63" width="2.72" height="1.7" fill="#FF0000"/><rect x="48.90" y="303.27" width="2.95" height="1.7" fill="#00D0E0"/><rect x="83.47" y="305.32" width="2.68" height="1.7" fill="#00D0E0"/><rect x="86.99" y="302.46" width="2.86" height="1.7" fill="#FF0000"/><rect x="115.00" y="302.28" width="2.93" height="1.7" fill="#00E060"/><rect x="123.54" y="305.62" width="1.6" height="2.4" fill="#00D0E0"/><rect x="161.10" y="306.30" width="2.31" height="1.7" fill="#00D0E0"/><rect x="178.60" y="302.77" width="2.74" height="1.7" fill="#FF0000"/>
<g fill="#0080FF"><rect x="20.60" y="312.98" width="2.48" height="6.05" rx="0.7"/><rect x="23.93" y="313.24" width="2.49" height="5.52" rx="0.7"/><rect x="27.26" y="313.35" width="2.90" height="5.30" rx="0.7"/><rect x="33.80" y="313.16" width="2.70" height="5.67" rx="0.7"/><rect x="37.35" y="313.32" width="2.89" height="5.36" rx="0.7"/><rect x="41.09" y="312.96" width="2.54" height="6.08" rx="0.7"/><rect x="48.90" y="312.91" width="2.42" height="6.19" rx="0.7"/><rect x="52.17" y="313.43" width="2.50" height="5.13" rx="0.7"/><rect x="55.51" y="313.13" width="2.50" height="5.73" rx="0.7"/><rect x="58.86" y="313.16" width="2.80" height="5.69" rx="0.7"/><rect x="67.00" y="313.05" width="2.57" height="5.91" rx="0.7"/><rect x="70.42" y="313.24" width="2.56" height="5.52" rx="0.7"/><rect x="73.84" y="313.32" width="2.69" height="5.35" rx="0.7"/><rect x="77.38" y="313.37" width="2.31" height="5.27" rx="0.7"/><rect x="80.53" y="313.01" width="2.68" height="5.98" rx="0.7"/><rect x="84.07" y="312.89" width="2.33" height="6.23" rx="0.7"/><rect x="87.24" y="313.36" width="2.62" height="5.27" rx="0.7"/><rect x="90.72" y="313.02" width="2.42" height="5.96" rx="0.7"/><rect x="93.98" y="312.85" width="2.86" height="6.31" rx="0.7"/><rect x="101.80" y="313.31" width="2.95" height="5.38" rx="0.7"/><rect x="105.60" y="312.84" width="2.48" height="6.32" rx="0.7"/><rect x="108.93" y="312.95" width="2.33" height="6.09" rx="0.7"/><rect x="112.11" y="313.24" width="2.09" height="5.51" rx="0.7"/><rect x="136.50" y="312.89" width="2.81" height="6.21" rx="0.7"/><rect x="140.16" y="313.05" width="2.90" height="5.90" rx="0.7"/><rect x="143.91" y="312.83" width="2.63" height="6.35" rx="0.7"/><rect x="147.39" y="312.83" width="2.01" height="6.35" rx="0.7"/><rect x="154.40" y="313.40" width="2.74" height="5.21" rx="0.7"/><rect x="157.99" y="313.00" width="2.32" height="6.00" rx="0.7"/><rect x="161.16" y="313.02" width="2.67" height="5.96" rx="0.7"/><rect x="175.20" y="313.16" width="2.75" height="5.67" rx="0.7"/><rect x="178.80" y="313.04" width="2.61" height="5.92" rx="0.7"/><rect x="182.26" y="313.11" width="2.53" height="5.79" rx="0.7"/><rect x="191.40" y="312.95" width="2.85" height="6.10" rx="0.7"/><rect x="195.10" y="313.41" width="1.70" height="5.18" rx="0.7"/></g>
<path d="M120.10 312.19Q120.70 316.00 120.10 319.81M124.40 311.62Q122.60 316.00 124.40 320.38M126.70 312.13Q128.50 316.00 126.70 319.87" stroke="#0080FF" stroke-width="1.6" fill="none" stroke-linecap="round"/>
<rect x="52.17" y="313.91" width="2.50" height="1.7" fill="#FF3030"/><rect x="84.07" y="313.44" width="2.33" height="1.7" fill="#FF3030"/><rect x="90.72" y="315.33" width="2.42" height="1.7" fill="#FF3030"/><rect x="93.98" y="316.86" width="2.86" height="1.7" fill="#FF3030"/><rect x="101.80" y="313.37" width="2.95" height="1.7" fill="#FF3030"/><rect x="112.11" y="315.37" width="2.09" height="1.7" fill="#FF3030"/><rect x="124.52" y="314.53" width="1.6" height="2.4" fill="#FF3030"/>
<g fill="#FF8030"><rect x="20.60" y="322.78" width="2.47" height="5.93" rx="0.7"/><rect x="23.92" y="322.70" width="2.34" height="6.10" rx="0.7"/><rect x="27.12" y="322.72" width="2.88" height="6.06" rx="0.7"/><rect x="33.80" y="322.66" width="2.86" height="6.18" rx="0.7"/><rect x="37.51" y="322.84" width="2.69" height="5.82" rx="0.7"/><rect x="41.06" y="322.72" width="2.34" height="6.05" rx="0.7"/><rect x="48.90" y="323.09" width="2.43" height="5.31" rx="0.7"/><rect x="52.18" y="323.10" width="2.75" height="5.29" rx="0.7"/><rect x="55.78" y="322.60" width="2.41" height="6.29" rx="0.7"/><rect x="59.05" y="322.63" width="1.75" height="6.25" rx="0.7"/><rect x="67.00" y="322.66" width="2.54" height="6.19" rx="0.7"/><rect x="70.39" y="322.76" width="2.57" height="5.99" rx="0.7"/><rect x="73.81" y="322.78" width="2.54" height="5.94" rx="0.7"/><rect x="77.20" y="322.78" width="2.50" height="5.93" rx="0.7"/><rect x="80.55" y="322.92" width="2.49" height="5.66" rx="0.7"/><rect x="83.89" y="322.87" width="2.41" height="5.75" rx="0.7"/><rect x="87.16" y="323.05" width="2.65" height="5.40" rx="0.7"/><rect x="90.65" y="322.96" width="2.52" height="5.58" rx="0.7"/><rect x="94.03" y="322.83" width="1.37" height="5.84" rx="0.7"/><rect x="101.80" y="322.62" width="2.66" height="6.26" rx="0.7"/><rect x="105.31" y="322.92" width="2.47" height="5.65" rx="0.7"/><rect x="108.64" y="323.14" width="1.56" height="5.21" rx="0.7"/><rect x="136.50" y="322.62" width="2.69" height="6.27" rx="0.7"/><rect x="140.04" y="322.75" width="2.95" height="6.00" rx="0.7"/><rect x="143.84" y="322.99" width="2.74" height="5.52" rx="0.7"/><rect x="147.43" y="322.89" width="1.47" height="5.73" rx="0.7"/><rect x="154.40" y="323.18" width="2.81" height="5.13" rx="0.7"/><rect x="158.06" y="322.91" width="2.61" height="5.68" rx="0.7"/><rect x="161.51" y="322.90" width="2.29" height="5.70" rx="0.7"/><rect x="175.20" y="322.89" width="2.59" height="5.72" rx="0.7"/><rect x="178.64" y="322.78" width="2.85" height="5.94" rx="0.7"/><rect x="182.34" y="323.17" width="2.57" height="5.15" rx="0.7"/><rect x="191.40" y="322.72" width="2.67" height="6.07" rx="0.7"/><rect x="194.92" y="323.06" width="1.88" height="5.38" rx="0.7"/></g>
<path d="M119.70 321.67Q121.50 325.75 119.70 329.83M124.40 322.12Q122.60 325.75 124.40 329.38M126.40 321.84Q129.10 325.75 126.40 329.66M130.20 321.63Q132.00 325.75 130.20 329.87" stroke="#FF8030" stroke-width="1.6" fill="none" stroke-linecap="round"/>
<rect x="80.55" y="325.89" width="2.49" height="1.7" fill="#40C040"/><rect x="83.89" y="324.40" width="2.41" height="1.7" fill="#40C040"/><rect x="90.65" y="322.96" width="2.52" height="1.7" fill="#40C040"/><rect x="108.64" y="325.38" width="1.56" height="1.7" fill="#40C040"/><rect x="125.60" y="325.10" width="1.6" height="2.4" fill="#40C040"/><rect x="143.84" y="324.48" width="2.74" height="1.7" fill="#40C040"/><rect x="194.92" y="323.45" width="1.88" height="1.7" fill="#40C040"/>
<g fill="#FFFFFF"><rect x="20.60" y="332.33" width="2.35" height="6.05" rx="0.7"/><rect x="23.80" y="332.37" width="2.33" height="5.96" rx="0.7"/><rect x="26.99" y="332.77" width="2.62" height="5.17" rx="0.7"/><rect x="33.80" y="332.43" width="2.58" height="5.84" rx="0.7"/><rect x="37.23" y="332.25" width="2.85" height="6.20" rx="0.7"/><rect x="40.92" y="332.68" width="2.28" height="5.33" rx="0.7"/><rect x="48.30" y="332.75" width="2.65" height="5.21" rx="0.7"/><rect x="51.80" y="332.61" width="2.74" height="5.48" rx="0.7"/><rect x="55.39" y="332.37" width="2.89" height="5.96" rx="0.7"/><rect x="59.13" y="332.56" width="2.46" height="5.58" rx="0.7"/><rect x="62.44" y="332.61" width="2.66" height="5.48" rx="0.7"/><rect x="67.00" y="332.51" width="2.55" height="5.68" rx="0.7"/><rect x="70.40" y="332.57" width="2.69" height="5.56" rx="0.7"/><rect x="73.94" y="332.22" width="2.43" height="6.26" rx="0.7"/><rect x="77.22" y="332.60" width="2.33" height="5.50" rx="0.7"/><rect x="80.40" y="332.44" width="2.57" height="5.81" rx="0.7"/><rect x="83.82" y="332.30" width="2.48" height="6.10" rx="0.7"/><rect x="87.15" y="332.29" width="2.77" height="6.11" rx="0.7"/><rect x="90.77" y="332.21" width="2.60" height="6.28" rx="0.7"/><rect x="94.22" y="332.76" width="2.68" height="5.17" rx="0.7"/><rect x="101.80" y="332.77" width="2.73" height="5.16" rx="0.7"/><rect x="105.38" y="332.42" width="2.34" height="5.85" rx="0.7"/><rect x="136.50" y="332.74" width="2.43" height="5.22" rx="0.7"/><rect x="139.78" y="332.23" width="2.47" height="6.24" rx="0.7"/><rect x="143.10" y="332.76" width="2.40" height="5.17" rx="0.7"/><rect x="146.35" y="332.27" width="2.32" height="6.15" rx="0.7"/><rect x="154.40" y="332.43" width="2.45" height="5.83" rx="0.7"/><rect x="157.70" y="332.70" width="2.67" height="5.29" rx="0.7"/><rect x="161.23" y="332.27" width="2.51" height="6.16" rx="0.7"/><rect x="164.59" y="332.18" width="2.83" height="6.33" rx="0.7"/><rect x="168.27" y="332.56" width="2.32" height="5.58" rx="0.7"/><rect x="171.44" y="332.46" width="1.36" height="5.79" rx="0.7"/><rect x="174.60" y="332.59" width="2.42" height="5.52" rx="0.7"/><rect x="177.87" y="332.58" width="2.32" height="5.54" rx="0.7"/><rect x="181.04" y="332.39" width="2.44" height="5.93" rx="0.7"/><rect x="184.33" y="332.49" width="2.34" height="5.72" rx="0.7"/><rect x="187.52" y="332.67" width="2.91" height="5.35" rx="0.7"/><rect x="191.40" y="332.43" width="2.50" height="5.84" rx="0.7"/><rect x="194.75" y="332.50" width="2.43" height="5.69" rx="0.7"/></g>
<path d="M120.10 331.32Q120.70 335.35 120.10 339.38M124.70 331.53Q122.00 335.35 124.70 339.17M126.70 331.27Q128.50 335.35 126.70 339.43M130.60 331.24Q131.20 335.35 130.60 339.46" stroke="#FFFFFF" stroke-width="1.6" fill="none" stroke-linecap="round"/>
<rect x="37.23" y="333.13" width="2.85" height="1.7" fill="#00E0E0"/><rect x="62.44" y="334.69" width="2.66" height="1.7" fill="#00E0E0"/><rect x="126.76" y="334.98" width="1.6" height="2.4" fill="#00E0E0"/><rect x="136.50" y="335.12" width="2.43" height="1.7" fill="#00E0E0"/><rect x="171.44" y="333.08" width="1.36" height="1.7" fill="#00E0E0"/><rect x="184.33" y="336.15" width="2.34" height="1.7" fill="#00E0E0"/>
<g fill="#FF0090"><rect x="20.60" y="341.09" width="2.81" height="5.72" rx="0.7"/><rect x="24.26" y="341.44" width="2.69" height="5.02" rx="0.7"/><rect x="33.80" y="341.55" width="2.69" height="4.79" rx="0.7"/><rect x="37.34" y="341.50" width="2.30" height="4.90" rx="0.7"/><rect x="48.90" y="341.44" width="2.40" height="5.02" rx="0.7"/><rect x="52.15" y="341.41" width="2.41" height="5.08" rx="0.7"/><rect x="55.41" y="341.42" width="1.89" height="5.06" rx="0.7"/><rect x="67.00" y="341.55" width="2.54" height="4.80" rx="0.7"/><rect x="70.39" y="341.15" width="2.86" height="5.61" rx="0.7"/><rect x="74.10" y="341.35" width="2.78" height="5.20" rx="0.7"/><rect x="77.73" y="341.55" width="2.80" height="4.81" rx="0.7"/><rect x="81.38" y="341.39" width="2.40" height="5.13" rx="0.7"/><rect x="84.63" y="341.59" width="1.77" height="4.72" rx="0.7"/><rect x="101.80" y="341.37" width="2.69" height="5.15" rx="0.7"/><rect x="105.34" y="341.37" width="2.77" height="5.15" rx="0.7"/><rect x="108.95" y="341.57" width="2.86" height="4.76" rx="0.7"/><rect x="112.66" y="341.19" width="1.04" height="5.52" rx="0.7"/><rect x="136.50" y="341.55" width="2.47" height="4.80" rx="0.7"/><rect x="139.82" y="341.52" width="2.46" height="4.85" rx="0.7"/><rect x="143.13" y="341.30" width="1.77" height="5.30" rx="0.7"/><rect x="154.40" y="341.47" width="2.51" height="4.96" rx="0.7"/><rect x="157.76" y="341.59" width="2.68" height="4.72" rx="0.7"/><rect x="161.29" y="341.06" width="2.47" height="5.77" rx="0.7"/><rect x="175.20" y="341.29" width="2.49" height="5.32" rx="0.7"/><rect x="178.54" y="341.09" width="2.96" height="5.72" rx="0.7"/><rect x="182.35" y="341.30" width="2.79" height="5.29" rx="0.7"/><rect x="191.40" y="341.56" width="2.46" height="4.78" rx="0.7"/><rect x="194.71" y="341.58" width="2.09" height="4.74" rx="0.7"/></g>
<path d="M119.70 341.32Q121.50 343.95 119.70 346.58M122.90 341.22Q125.60 343.95 122.90 346.68M127.90 341.24Q126.10 343.95 127.90 346.66" stroke="#FF0090" stroke-width="1.6" fill="none" stroke-linecap="round"/>
<g fill="#FF10FF"><rect x="20.60" y="348.86" width="2.83" height="5.49" rx="0.7"/><rect x="24.28" y="348.83" width="2.44" height="5.53" rx="0.7"/><rect x="33.80" y="349.16" width="2.35" height="4.87" rx="0.7"/><rect x="37.00" y="348.69" width="2.86" height="5.83" rx="0.7"/><rect x="48.90" y="348.90" width="2.58" height="5.40" rx="0.7"/><rect x="52.33" y="348.93" width="2.37" height="5.33" rx="0.7"/><rect x="55.55" y="348.88" width="2.38" height="5.44" rx="0.7"/><rect x="58.78" y="349.12" width="1.52" height="4.96" rx="0.7"/><rect x="67.00" y="348.97" width="2.82" height="5.27" rx="0.7"/><rect x="70.67" y="348.79" width="2.85" height="5.62" rx="0.7"/><rect x="74.37" y="349.07" width="2.34" height="5.06" rx="0.7"/><rect x="77.56" y="349.14" width="2.36" height="4.92" rx="0.7"/><rect x="80.77" y="349.16" width="2.82" height="4.88" rx="0.7"/><rect x="84.44" y="349.21" width="2.50" height="4.77" rx="0.7"/><rect x="87.79" y="348.92" width="2.81" height="5.36" rx="0.7"/><rect x="91.45" y="349.08" width="2.42" height="5.04" rx="0.7"/><rect x="94.71" y="348.81" width="1.69" height="5.58" rx="0.7"/><rect x="101.80" y="348.81" width="2.32" height="5.59" rx="0.7"/><rect x="104.97" y="348.97" width="2.39" height="5.27" rx="0.7"/><rect x="108.21" y="348.80" width="1.99" height="5.60" rx="0.7"/><rect x="136.50" y="349.07" width="2.65" height="5.06" rx="0.7"/><rect x="140.00" y="348.91" width="2.34" height="5.37" rx="0.7"/><rect x="143.19" y="348.76" width="2.34" height="5.68" rx="0.7"/><rect x="146.38" y="349.05" width="2.33" height="5.10" rx="0.7"/><rect x="154.40" y="348.89" width="2.57" height="5.43" rx="0.7"/><rect x="157.82" y="348.93" width="2.95" height="5.35" rx="0.7"/><rect x="161.62" y="348.98" width="2.68" height="5.24" rx="0.7"/><rect x="175.20" y="348.98" width="2.82" height="5.25" rx="0.7"/><rect x="178.87" y="348.86" width="2.47" height="5.48" rx="0.7"/><rect x="182.19" y="349.23" width="2.50" height="4.74" rx="0.7"/><rect x="191.40" y="348.81" width="2.61" height="5.59" rx="0.7"/><rect x="194.86" y="349.17" width="1.94" height="4.87" rx="0.7"/></g>
<path d="M121.20 348.83Q118.50 351.60 121.20 354.37M124.70 348.51Q122.00 351.60 124.70 354.69M126.40 348.30Q129.10 351.60 126.40 354.90M131.40 348.94Q129.60 351.60 131.40 354.26" stroke="#FF10FF" stroke-width="1.6" fill="none" stroke-linecap="round"/>
<g fill="#7070FF"><rect x="20.60" y="357.00" width="2.56" height="5.91" rx="0.7"/><rect x="24.01" y="356.93" width="2.64" height="6.04" rx="0.7"/><rect x="27.50" y="357.00" width="2.74" height="5.90" rx="0.7"/><rect x="33.80" y="357.25" width="2.87" height="5.40" rx="0.7"/><rect x="37.52" y="356.85" width="2.67" height="6.21" rx="0.7"/><rect x="41.04" y="356.84" width="2.92" height="6.22" rx="0.7"/><rect x="48.90" y="356.81" width="2.76" height="6.29" rx="0.7"/><rect x="52.51" y="357.35" width="2.57" height="5.21" rx="0.7"/><rect x="55.93" y="357.19" width="2.86" height="5.53" rx="0.7"/><rect x="67.00" y="356.90" width="2.86" height="6.10" rx="0.7"/><rect x="70.71" y="356.85" width="2.94" height="6.21" rx="0.7"/><rect x="74.50" y="357.21" width="2.57" height="5.48" rx="0.7"/><rect x="77.92" y="357.11" width="2.56" height="5.69" rx="0.7"/><rect x="81.33" y="356.96" width="2.48" height="5.98" rx="0.7"/><rect x="84.66" y="356.89" width="2.74" height="6.12" rx="0.7"/><rect x="88.25" y="357.15" width="2.90" height="5.59" rx="0.7"/><rect x="92.00" y="357.29" width="2.40" height="5.31" rx="0.7"/><rect x="101.80" y="356.84" width="2.85" height="6.21" rx="0.7"/><rect x="105.50" y="357.20" width="2.50" height="5.50" rx="0.7"/><rect x="136.50" y="356.99" width="2.68" height="5.93" rx="0.7"/><rect x="140.03" y="356.78" width="2.75" height="6.34" rx="0.7"/><rect x="143.63" y="356.98" width="1.27" height="5.94" rx="0.7"/><rect x="154.40" y="357.01" width="2.35" height="5.89" rx="0.7"/><rect x="157.60" y="357.17" width="2.94" height="5.56" rx="0.7"/><rect x="161.39" y="357.16" width="2.72" height="5.57" rx="0.7"/><rect x="175.20" y="356.83" width="2.75" height="6.24" rx="0.7"/><rect x="178.80" y="356.78" width="2.54" height="6.33" rx="0.7"/><rect x="182.19" y="356.93" width="2.60" height="6.05" rx="0.7"/><rect x="191.40" y="356.93" width="2.79" height="6.04" rx="0.7"/><rect x="195.04" y="356.81" width="1.76" height="6.28" rx="0.7"/></g>
<path d="M120.10 356.72Q120.70 359.95 120.10 363.18M124.70 356.57Q122.00 359.95 124.70 363.33" stroke="#7070FF" stroke-width="1.6" fill="none" stroke-linecap="round"/>
<rect x="27.50" y="360.23" width="2.74" height="1.7" fill="#00E0E0"/><rect x="41.04" y="360.51" width="2.92" height="1.7" fill="#00E0E0"/><rect x="67.00" y="359.62" width="2.86" height="1.7" fill="#00E0E0"/><rect x="74.50" y="357.53" width="2.57" height="1.7" fill="#00E0E0"/><rect x="77.92" y="357.47" width="2.56" height="1.7" fill="#00E0E0"/><rect x="84.66" y="358.59" width="2.74" height="1.7" fill="#00E0E0"/><rect x="121.22" y="358.81" width="1.6" height="2.4" fill="#00E0E0"/><rect x="143.63" y="359.87" width="1.27" height="1.7" fill="#00E0E0"/><rect x="178.80" y="359.42" width="2.54" height="1.7" fill="#00E0E0"/><rect x="191.40" y="359.07" width="2.79" height="1.7" fill="#00E0E0"/>
<g fill="#B05060"><rect x="20.60" y="365.99" width="2.42" height="5.21" rx="0.7"/><rect x="23.87" y="366.38" width="2.97" height="4.43" rx="0.7"/><rect x="27.69" y="366.15" width="2.31" height="4.91" rx="0.7"/><rect x="33.80" y="366.46" width="2.82" height="4.28" rx="0.7"/><rect x="37.47" y="366.43" width="2.57" height="4.34" rx="0.7"/><rect x="40.89" y="366.22" width="2.31" height="4.77" rx="0.7"/><rect x="48.90" y="366.00" width="2.54" height="5.20" rx="0.7"/><rect x="52.29" y="366.21" width="2.86" height="4.77" rx="0.7"/><rect x="56.00" y="366.05" width="2.43" height="5.10" rx="0.7"/><rect x="67.00" y="366.31" width="2.41" height="4.58" rx="0.7"/><rect x="70.26" y="366.29" width="2.82" height="4.63" rx="0.7"/><rect x="73.93" y="366.01" width="2.48" height="5.19" rx="0.7"/><rect x="77.26" y="365.99" width="2.71" height="5.22" rx="0.7"/><rect x="80.82" y="366.29" width="2.76" height="4.63" rx="0.7"/><rect x="84.43" y="366.23" width="2.83" height="4.75" rx="0.7"/><rect x="88.11" y="366.39" width="2.57" height="4.42" rx="0.7"/><rect x="91.53" y="366.33" width="1.87" height="4.54" rx="0.7"/><rect x="101.80" y="366.03" width="2.74" height="5.14" rx="0.7"/><rect x="105.39" y="366.27" width="2.35" height="4.66" rx="0.7"/><rect x="108.59" y="366.05" width="2.56" height="5.10" rx="0.7"/><rect x="112.00" y="366.24" width="1.20" height="4.72" rx="0.7"/><rect x="136.50" y="366.39" width="2.92" height="4.42" rx="0.7"/><rect x="140.27" y="366.09" width="2.78" height="5.03" rx="0.7"/><rect x="143.91" y="366.09" width="2.93" height="5.03" rx="0.7"/><rect x="154.40" y="366.05" width="2.56" height="5.10" rx="0.7"/><rect x="157.81" y="366.02" width="2.42" height="5.17" rx="0.7"/><rect x="161.08" y="366.12" width="2.65" height="4.95" rx="0.7"/><rect x="175.20" y="366.30" width="2.39" height="4.61" rx="0.7"/><rect x="178.44" y="366.17" width="2.30" height="4.85" rx="0.7"/><rect x="181.58" y="366.36" width="2.59" height="4.47" rx="0.7"/><rect x="191.40" y="366.12" width="2.83" height="4.96" rx="0.7"/><rect x="195.08" y="366.36" width="1.72" height="4.48" rx="0.7"/></g>
<path d="M119.70 365.53Q121.50 368.60 119.70 371.67M124.70 365.08Q122.00 368.60 124.70 372.12M127.10 365.65Q127.70 368.60 127.10 371.55" stroke="#B05060" stroke-width="1.6" fill="none" stroke-linecap="round"/>
<rect x="52.29" y="369.05" width="2.86" height="1.7" fill="#FF00FF"/><rect x="56.00" y="368.63" width="2.43" height="1.7" fill="#FF00FF"/><rect x="67.00" y="369.20" width="2.41" height="1.7" fill="#FF00FF"/><rect x="84.43" y="367.80" width="2.83" height="1.7" fill="#FF00FF"/><rect x="112.00" y="367.34" width="1.20" height="1.7" fill="#FF00FF"/><rect x="127.13" y="369.09" width="1.6" height="2.4" fill="#FF00FF"/><rect x="140.27" y="367.44" width="2.78" height="1.7" fill="#FF00FF"/><rect x="175.20" y="366.50" width="2.39" height="1.7" fill="#FF00FF"/>
<g fill="#F0F070"><rect x="20.60" y="374.46" width="2.46" height="4.38" rx="0.7"/><rect x="23.91" y="374.02" width="2.32" height="5.27" rx="0.7"/><rect x="27.07" y="374.37" width="1.93" height="4.55" rx="0.7"/><rect x="33.80" y="374.32" width="2.89" height="4.65" rx="0.7"/><rect x="37.54" y="374.12" width="2.78" height="5.06" rx="0.7"/><rect x="41.16" y="374.21" width="1.54" height="4.89" rx="0.7"/><rect x="48.90" y="374.34" width="2.50" height="4.63" rx="0.7"/><rect x="52.25" y="374.48" width="2.89" height="4.33" rx="0.7"/><rect x="56.00" y="374.41" width="2.94" height="4.48" rx="0.7"/><rect x="67.00" y="374.29" width="2.81" height="4.72" rx="0.7"/><rect x="70.66" y="374.22" width="2.95" height="4.87" rx="0.7"/><rect x="74.47" y="374.24" width="2.32" height="4.81" rx="0.7"/><rect x="77.63" y="374.37" width="2.62" height="4.56" rx="0.7"/><rect x="81.10" y="374.25" width="2.95" height="4.81" rx="0.7"/><rect x="84.90" y="374.09" width="2.67" height="5.11" rx="0.7"/><rect x="88.42" y="374.22" width="2.95" height="4.86" rx="0.7"/><rect x="92.22" y="374.43" width="2.18" height="4.43" rx="0.7"/><rect x="101.80" y="374.33" width="2.48" height="4.64" rx="0.7"/><rect x="105.13" y="374.48" width="2.48" height="4.34" rx="0.7"/><rect x="108.46" y="374.41" width="2.69" height="4.49" rx="0.7"/><rect x="112.00" y="374.10" width="2.97" height="5.09" rx="0.7"/><rect x="136.50" y="374.44" width="2.37" height="4.42" rx="0.7"/><rect x="139.72" y="374.05" width="2.35" height="5.19" rx="0.7"/><rect x="142.92" y="374.12" width="2.80" height="5.06" rx="0.7"/><rect x="146.56" y="374.09" width="1.34" height="5.13" rx="0.7"/><rect x="154.40" y="374.51" width="2.83" height="4.27" rx="0.7"/><rect x="158.08" y="374.52" width="2.71" height="4.27" rx="0.7"/><rect x="161.63" y="374.09" width="2.58" height="5.13" rx="0.7"/><rect x="175.20" y="374.24" width="2.80" height="4.81" rx="0.7"/><rect x="178.85" y="374.23" width="2.72" height="4.84" rx="0.7"/><rect x="182.42" y="374.47" width="2.53" height="4.36" rx="0.7"/><rect x="191.40" y="374.30" width="2.76" height="4.69" rx="0.7"/><rect x="195.01" y="374.07" width="1.79" height="5.15" rx="0.7"/></g>
<path d="M119.70 373.62Q121.50 376.65 119.70 379.68M123.20 374.00Q125.00 376.65 123.20 379.30M127.90 373.68Q126.10 376.65 127.90 379.62" stroke="#F0F070" stroke-width="1.6" fill="none" stroke-linecap="round"/>
<rect x="52.25" y="374.82" width="2.89" height="1.7" fill="#FF8000"/><rect x="105.13" y="375.88" width="2.48" height="1.7" fill="#FF8000"/><rect x="122.90" y="376.80" width="1.6" height="2.4" fill="#FF8000"/><rect x="139.72" y="376.89" width="2.35" height="1.7" fill="#FF8000"/><rect x="191.40" y="376.69" width="2.76" height="1.7" fill="#FF8000"/>
<g fill="#FF7070"><rect x="20.60" y="381.67" width="2.89" height="4.76" rx="0.7"/><rect x="24.34" y="381.75" width="2.35" height="4.60" rx="0.7"/><rect x="27.54" y="381.45" width="2.51" height="5.19" rx="0.7"/><rect x="33.80" y="381.48" width="2.95" height="5.14" rx="0.7"/><rect x="37.60" y="381.79" width="2.65" height="4.51" rx="0.7"/><rect x="41.11" y="381.74" width="2.09" height="4.62" rx="0.7"/><rect x="48.90" y="381.43" width="2.74" height="5.23" rx="0.7"/><rect x="52.49" y="381.78" width="2.43" height="4.54" rx="0.7"/><rect x="55.76" y="381.65" width="2.85" height="4.79" rx="0.7"/><rect x="59.46" y="381.54" width="1.34" height="5.01" rx="0.7"/><rect x="67.00" y="381.45" width="2.40" height="5.19" rx="0.7"/><rect x="70.25" y="381.85" width="2.59" height="4.40" rx="0.7"/><rect x="73.69" y="381.54" width="2.37" height="5.01" rx="0.7"/><rect x="76.91" y="381.91" width="2.65" height="4.28" rx="0.7"/><rect x="80.42" y="381.41" width="2.84" height="5.27" rx="0.7"/><rect x="84.11" y="381.52" width="2.35" height="5.07" rx="0.7"/><rect x="87.31" y="381.62" width="2.43" height="4.85" rx="0.7"/><rect x="90.60" y="381.47" width="2.80" height="5.15" rx="0.7"/><rect x="101.80" y="381.63" width="2.52" height="4.84" rx="0.7"/><rect x="105.17" y="381.52" width="2.53" height="5.06" rx="0.7"/><rect x="136.50" y="381.46" width="2.36" height="5.17" rx="0.7"/><rect x="139.71" y="381.69" width="2.93" height="4.71" rx="0.7"/><rect x="143.49" y="381.44" width="1.41" height="5.22" rx="0.7"/><rect x="154.40" y="381.45" width="2.76" height="5.21" rx="0.7"/><rect x="158.01" y="381.63" width="2.81" height="4.85" rx="0.7"/><rect x="161.67" y="381.47" width="2.63" height="5.15" rx="0.7"/><rect x="175.20" y="381.58" width="2.41" height="4.93" rx="0.7"/><rect x="178.46" y="381.41" width="2.88" height="5.29" rx="0.7"/><rect x="182.19" y="381.68" width="2.78" height="4.74" rx="0.7"/><rect x="191.40" y="381.61" width="2.89" height="4.89" rx="0.7"/><rect x="195.14" y="381.66" width="1.66" height="4.77" rx="0.7"/></g>
<path d="M121.20 381.69Q118.50 384.05 121.20 386.41M124.70 381.16Q122.00 384.05 124.70 386.94M127.90 381.17Q126.10 384.05 127.90 386.93" stroke="#FF7070" stroke-width="1.6" fill="none" stroke-linecap="round"/>
<g fill="#A000C0"><rect x="20.60" y="388.91" width="2.55" height="3.99" rx="0.7"/><rect x="24.00" y="388.83" width="2.83" height="4.15" rx="0.7"/><rect x="33.80" y="388.96" width="2.30" height="3.88" rx="0.7"/><rect x="36.95" y="389.11" width="2.80" height="3.59" rx="0.7"/><rect x="48.90" y="388.93" width="2.79" height="3.94" rx="0.7"/><rect x="52.54" y="388.82" width="2.46" height="4.16" rx="0.7"/><rect x="55.85" y="389.20" width="1.45" height="3.40" rx="0.7"/><rect x="67.00" y="389.03" width="2.61" height="3.74" rx="0.7"/><rect x="70.46" y="388.80" width="2.93" height="4.21" rx="0.7"/><rect x="74.24" y="389.18" width="2.82" height="3.44" rx="0.7"/><rect x="77.91" y="388.96" width="2.67" height="3.89" rx="0.7"/><rect x="81.43" y="389.18" width="2.57" height="3.43" rx="0.7"/><rect x="84.85" y="389.00" width="2.55" height="3.80" rx="0.7"/><rect x="101.80" y="388.88" width="2.94" height="4.04" rx="0.7"/><rect x="105.59" y="389.16" width="2.89" height="3.48" rx="0.7"/><rect x="109.33" y="388.98" width="1.37" height="3.84" rx="0.7"/><rect x="136.50" y="388.84" width="2.30" height="4.12" rx="0.7"/><rect x="139.65" y="388.86" width="2.67" height="4.09" rx="0.7"/><rect x="143.17" y="388.94" width="2.63" height="3.92" rx="0.7"/><rect x="146.65" y="388.86" width="2.70" height="4.07" rx="0.7"/><rect x="154.40" y="389.18" width="2.35" height="3.45" rx="0.7"/><rect x="157.60" y="389.08" width="2.66" height="3.64" rx="0.7"/><rect x="161.11" y="389.20" width="2.56" height="3.41" rx="0.7"/><rect x="175.20" y="389.19" width="2.80" height="3.42" rx="0.7"/><rect x="178.85" y="388.86" width="2.86" height="4.08" rx="0.7"/><rect x="182.55" y="389.15" width="2.60" height="3.50" rx="0.7"/><rect x="186.01" y="389.11" width="1.09" height="3.57" rx="0.7"/><rect x="191.40" y="389.15" width="2.58" height="3.49" rx="0.7"/><rect x="194.83" y="388.97" width="1.97" height="3.86" rx="0.7"/></g>
<path d="M120.10 388.46Q120.70 390.90 120.10 393.34M122.90 388.46Q125.60 390.90 122.90 393.34M127.90 388.25Q126.10 390.90 127.90 393.55" stroke="#A000C0" stroke-width="1.6" fill="none" stroke-linecap="round"/>
<g fill="#80F060"><rect x="20.60" y="395.18" width="2.53" height="3.13" rx="0.7"/><rect x="23.98" y="394.90" width="2.79" height="3.70" rx="0.7"/><rect x="27.62" y="395.18" width="1.38" height="3.14" rx="0.7"/><rect x="33.80" y="395.11" width="2.54" height="3.29" rx="0.7"/><rect x="37.19" y="395.16" width="2.81" height="3.17" rx="0.7"/><rect x="40.85" y="394.85" width="2.35" height="3.80" rx="0.7"/><rect x="48.90" y="395.22" width="2.81" height="3.07" rx="0.7"/><rect x="52.56" y="395.18" width="2.35" height="3.15" rx="0.7"/><rect x="67.00" y="394.99" width="2.76" height="3.51" rx="0.7"/><rect x="70.61" y="395.05" width="2.65" height="3.40" rx="0.7"/><rect x="74.11" y="394.99" width="2.57" height="3.52" rx="0.7"/><rect x="77.53" y="394.87" width="2.73" height="3.75" rx="0.7"/><rect x="81.11" y="394.92" width="2.79" height="3.66" rx="0.7"/><rect x="84.75" y="394.90" width="1.15" height="3.69" rx="0.7"/><rect x="101.80" y="395.21" width="2.78" height="3.08" rx="0.7"/><rect x="105.43" y="394.90" width="2.75" height="3.70" rx="0.7"/><rect x="109.03" y="394.89" width="1.17" height="3.72" rx="0.7"/><rect x="136.50" y="395.12" width="2.77" height="3.25" rx="0.7"/><rect x="140.12" y="395.09" width="2.50" height="3.32" rx="0.7"/><rect x="143.47" y="395.18" width="1.43" height="3.13" rx="0.7"/><rect x="154.40" y="394.85" width="2.59" height="3.80" rx="0.7"/><rect x="157.84" y="394.87" width="2.46" height="3.76" rx="0.7"/><rect x="175.20" y="394.90" width="2.81" height="3.69" rx="0.7"/><rect x="178.86" y="394.94" width="2.97" height="3.63" rx="0.7"/><rect x="191.40" y="395.13" width="2.48" height="3.25" rx="0.7"/><rect x="194.73" y="395.21" width="2.07" height="3.08" rx="0.7"/></g>
<path d="M121.20 394.95Q118.50 396.75 121.20 398.55M123.20 395.02Q125.00 396.75 123.20 398.48" stroke="#80F060" stroke-width="1.6" fill="none" stroke-linecap="round"/>
<g fill="#8000FF"><rect x="20.60" y="400.54" width="2.45" height="6.22" rx="0.7"/><rect x="23.90" y="400.89" width="1.10" height="5.51" rx="0.7"/><rect x="33.80" y="400.61" width="2.82" height="6.08" rx="0.7"/><rect x="37.47" y="400.60" width="2.23" height="6.10" rx="0.7"/><rect x="48.90" y="401.03" width="2.65" height="5.23" rx="0.7"/><rect x="52.40" y="400.90" width="1.90" height="5.50" rx="0.7"/><rect x="67.00" y="400.87" width="2.72" height="5.56" rx="0.7"/><rect x="70.57" y="400.49" width="2.66" height="6.32" rx="0.7"/><rect x="74.08" y="400.77" width="2.40" height="5.77" rx="0.7"/><rect x="77.33" y="400.76" width="1.57" height="5.78" rx="0.7"/><rect x="101.80" y="400.84" width="2.93" height="5.61" rx="0.7"/><rect x="105.58" y="400.67" width="2.91" height="5.97" rx="0.7"/><rect x="109.34" y="401.04" width="0.86" height="5.21" rx="0.7"/><rect x="136.50" y="400.54" width="2.80" height="6.22" rx="0.7"/><rect x="140.15" y="400.83" width="1.75" height="5.64" rx="0.7"/><rect x="154.40" y="400.50" width="2.37" height="6.29" rx="0.7"/><rect x="157.62" y="400.71" width="1.68" height="5.87" rx="0.7"/><rect x="175.20" y="400.50" width="2.41" height="6.29" rx="0.7"/><rect x="178.46" y="400.85" width="1.64" height="5.59" rx="0.7"/><rect x="191.40" y="400.49" width="2.40" height="6.31" rx="0.7"/></g>
<path d="M121.20 400.49Q118.50 403.65 121.20 406.81" stroke="#8000FF" stroke-width="1.6" fill="none" stroke-linecap="round"/>
<g fill="#C8C000"><rect x="20.60" y="408.90" width="2.36" height="3.30" rx="0.7"/><rect x="23.81" y="408.98" width="2.73" height="3.14" rx="0.7"/><rect x="27.38" y="408.94" width="1.62" height="3.22" rx="0.7"/><rect x="33.80" y="409.17" width="2.39" height="2.77" rx="0.7"/><rect x="37.04" y="409.06" width="2.34" height="2.98" rx="0.7"/><rect x="40.23" y="408.94" width="2.35" height="3.21" rx="0.7"/><rect x="48.90" y="409.17" width="2.66" height="2.77" rx="0.7"/><rect x="52.41" y="409.00" width="2.35" height="3.09" rx="0.7"/><rect x="55.60" y="408.97" width="2.78" height="3.16" rx="0.7"/><rect x="67.00" y="408.90" width="2.64" height="3.31" rx="0.7"/><rect x="70.49" y="409.04" width="2.92" height="3.02" rx="0.7"/><rect x="74.26" y="409.10" width="2.90" height="2.89" rx="0.7"/><rect x="78.01" y="408.96" width="2.56" height="3.19" rx="0.7"/><rect x="81.42" y="408.86" width="2.41" height="3.38" rx="0.7"/><rect x="84.68" y="408.90" width="2.89" height="3.30" rx="0.7"/><rect x="88.42" y="409.08" width="1.48" height="2.94" rx="0.7"/><rect x="101.80" y="409.06" width="2.43" height="2.98" rx="0.7"/><rect x="105.08" y="409.15" width="2.82" height="2.79" rx="0.7"/><rect x="119.50" y="409.07" width="2.44" height="2.96" rx="0.7"/><rect x="122.79" y="408.98" width="2.52" height="3.14" rx="0.7"/><rect x="136.50" y="409.17" width="2.87" height="2.77" rx="0.7"/><rect x="140.22" y="408.93" width="2.36" height="3.25" rx="0.7"/><rect x="143.42" y="409.09" width="0.98" height="2.93" rx="0.7"/><rect x="154.40" y="409.17" width="2.47" height="2.75" rx="0.7"/><rect x="157.72" y="408.91" width="2.62" height="3.28" rx="0.7"/><rect x="161.19" y="409.10" width="2.33" height="2.89" rx="0.7"/><rect x="175.20" y="408.99" width="2.36" height="3.11" rx="0.7"/><rect x="178.41" y="409.09" width="2.34" height="2.92" rx="0.7"/><rect x="191.40" y="408.88" width="2.48" height="3.35" rx="0.7"/><rect x="194.73" y="409.07" width="2.07" height="2.96" rx="0.7"/></g>
<g fill="#00A020"><rect x="20.60" y="413.75" width="2.66" height="2.31" rx="0.7"/><rect x="24.11" y="413.59" width="2.54" height="2.61" rx="0.7"/><rect x="27.51" y="413.75" width="1.49" height="2.30" rx="0.7"/><rect x="33.80" y="413.56" width="2.74" height="2.69" rx="0.7"/><rect x="37.39" y="413.75" width="2.91" height="2.30" rx="0.7"/><rect x="48.90" y="413.54" width="2.81" height="2.72" rx="0.7"/><rect x="52.56" y="413.62" width="1.74" height="2.56" rx="0.7"/><rect x="67.00" y="413.59" width="2.89" height="2.63" rx="0.7"/><rect x="70.74" y="413.73" width="2.87" height="2.34" rx="0.7"/><rect x="74.46" y="413.72" width="2.90" height="2.35" rx="0.7"/><rect x="78.21" y="413.77" width="2.30" height="2.26" rx="0.7"/><rect x="81.36" y="413.69" width="2.55" height="2.41" rx="0.7"/><rect x="84.76" y="413.67" width="2.49" height="2.47" rx="0.7"/><rect x="88.10" y="413.77" width="1.80" height="2.27" rx="0.7"/><rect x="101.80" y="413.66" width="2.67" height="2.48" rx="0.7"/><rect x="105.32" y="413.66" width="2.57" height="2.47" rx="0.7"/><rect x="108.74" y="413.55" width="2.92" height="2.71" rx="0.7"/><rect x="112.51" y="413.78" width="1.69" height="2.24" rx="0.7"/><rect x="119.50" y="413.72" width="2.42" height="2.36" rx="0.7"/><rect x="122.77" y="413.73" width="2.59" height="2.34" rx="0.7"/><rect x="126.22" y="413.78" width="2.52" height="2.24" rx="0.7"/><rect x="136.50" y="413.66" width="2.64" height="2.47" rx="0.7"/><rect x="139.99" y="413.63" width="2.44" height="2.54" rx="0.7"/><rect x="143.28" y="413.54" width="2.97" height="2.72" rx="0.7"/><rect x="154.40" y="413.78" width="2.55" height="2.24" rx="0.7"/><rect x="157.80" y="413.78" width="2.50" height="2.24" rx="0.7"/><rect x="175.20" y="413.66" width="2.65" height="2.49" rx="0.7"/><rect x="178.70" y="413.77" width="2.51" height="2.27" rx="0.7"/><rect x="182.06" y="413.67" width="2.54" height="2.47" rx="0.7"/><rect x="191.40" y="413.58" width="2.93" height="2.64" rx="0.7"/><rect x="195.18" y="413.57" width="1.62" height="2.65" rx="0.7"/></g>
<g fill="#208898"><rect x="20.60" y="417.47" width="2.72" height="2.26" rx="0.7"/><rect x="33.80" y="417.28" width="2.48" height="2.64" rx="0.7"/><rect x="37.13" y="417.30" width="1.07" height="2.59" rx="0.7"/><rect x="48.90" y="417.42" width="2.62" height="2.35" rx="0.7"/><rect x="52.37" y="417.32" width="0.93" height="2.55" rx="0.7"/><rect x="67.00" y="417.25" width="2.84" height="2.70" rx="0.7"/><rect x="70.69" y="417.31" width="2.73" height="2.59" rx="0.7"/><rect x="74.27" y="417.32" width="2.32" height="2.56" rx="0.7"/><rect x="77.44" y="417.31" width="1.46" height="2.57" rx="0.7"/><rect x="101.80" y="417.40" width="2.39" height="2.41" rx="0.7"/><rect x="105.04" y="417.25" width="2.56" height="2.69" rx="0.7"/><rect x="108.45" y="417.48" width="2.51" height="2.23" rx="0.7"/><rect x="119.50" y="417.32" width="2.87" height="2.57" rx="0.7"/><rect x="136.50" y="417.30" width="2.73" height="2.59" rx="0.7"/><rect x="140.08" y="417.37" width="1.32" height="2.46" rx="0.7"/><rect x="154.40" y="417.37" width="2.78" height="2.46" rx="0.7"/><rect x="175.20" y="417.42" width="2.87" height="2.37" rx="0.7"/><rect x="178.92" y="417.27" width="1.18" height="2.67" rx="0.7"/><rect x="191.40" y="417.41" width="2.40" height="2.38" rx="0.7"/></g>
<g fill="#D0D0D0"><rect x="20.60" y="421.56" width="2.43" height="2.07" rx="0.7"/><rect x="23.88" y="421.54" width="1.62" height="2.12" rx="0.7"/><rect x="33.80" y="421.46" width="2.54" height="2.28" rx="0.7"/><rect x="37.19" y="421.49" width="2.34" height="2.23" rx="0.7"/><rect x="48.90" y="421.39" width="2.87" height="2.41" rx="0.7"/><rect x="52.62" y="421.53" width="1.68" height="2.15" rx="0.7"/><rect x="67.00" y="421.53" width="2.91" height="2.14" rx="0.7"/><rect x="70.76" y="421.50" width="2.61" height="2.20" rx="0.7"/><rect x="74.22" y="421.51" width="2.82" height="2.18" rx="0.7"/><rect x="101.80" y="421.39" width="2.95" height="2.42" rx="0.7"/><rect x="105.60" y="421.54" width="2.32" height="2.13" rx="0.7"/><rect x="108.77" y="421.40" width="2.57" height="2.40" rx="0.7"/><rect x="119.50" y="421.39" width="2.68" height="2.43" rx="0.7"/><rect x="123.03" y="421.37" width="2.37" height="2.46" rx="0.7"/><rect x="136.50" y="421.38" width="2.40" height="2.45" rx="0.7"/><rect x="139.75" y="421.46" width="2.70" height="2.28" rx="0.7"/><rect x="154.40" y="421.48" width="2.66" height="2.23" rx="0.7"/><rect x="157.91" y="421.44" width="2.39" height="2.32" rx="0.7"/><rect x="175.20" y="421.48" width="2.48" height="2.25" rx="0.7"/><rect x="178.53" y="421.33" width="2.57" height="2.54" rx="0.7"/><rect x="191.40" y="421.50" width="0.90" height="2.20" rx="0.7"/></g>
<g fill="#FFFF00"><rect x="20.60" y="426.51" width="2.80" height="3.19" rx="0.7"/><rect x="24.25" y="426.26" width="2.25" height="3.68" rx="0.7"/><rect x="33.80" y="426.35" width="2.47" height="3.49" rx="0.7"/><rect x="37.12" y="426.29" width="2.40" height="3.62" rx="0.7"/><rect x="48.90" y="426.53" width="2.78" height="3.13" rx="0.7"/><rect x="52.53" y="426.20" width="2.77" height="3.79" rx="0.7"/><rect x="67.00" y="426.29" width="2.34" height="3.63" rx="0.7"/><rect x="70.19" y="426.54" width="2.39" height="3.12" rx="0.7"/><rect x="73.43" y="426.32" width="2.50" height="3.56" rx="0.7"/><rect x="76.78" y="426.40" width="2.69" height="3.40" rx="0.7"/><rect x="80.32" y="426.31" width="2.65" height="3.57" rx="0.7"/><rect x="101.80" y="426.36" width="2.65" height="3.48" rx="0.7"/><rect x="105.30" y="426.47" width="2.69" height="3.25" rx="0.7"/><rect x="119.50" y="426.21" width="2.88" height="3.78" rx="0.7"/><rect x="136.50" y="426.21" width="2.57" height="3.78" rx="0.7"/><rect x="139.92" y="426.31" width="2.85" height="3.59" rx="0.7"/><rect x="143.62" y="426.22" width="1.28" height="3.76" rx="0.7"/><rect x="154.40" y="426.28" width="2.52" height="3.64" rx="0.7"/><rect x="157.77" y="426.39" width="2.90" height="3.41" rx="0.7"/><rect x="175.20" y="426.20" width="2.95" height="3.80" rx="0.7"/><rect x="179.00" y="426.52" width="2.57" height="3.16" rx="0.7"/><rect x="191.40" y="426.30" width="2.55" height="3.60" rx="0.7"/><rect x="194.80" y="426.43" width="2.00" height="3.34" rx="0.7"/></g>
<rect x="139.92" y="426.73" width="2.85" height="1.7" fill="#FFFF00"/><rect x="175.20" y="427.39" width="2.95" height="1.7" fill="#FFFF00"/>
<g fill="#00D0E0"><rect x="20.60" y="432.32" width="2.73" height="1.86" rx="0.7"/><rect x="33.80" y="432.39" width="2.37" height="1.72" rx="0.7"/><rect x="67.00" y="432.37" width="2.89" height="1.76" rx="0.7"/><rect x="70.74" y="432.40" width="2.73" height="1.71" rx="0.7"/><rect x="101.80" y="432.42" width="2.60" height="1.66" rx="0.7"/><rect x="105.25" y="432.42" width="2.66" height="1.66" rx="0.7"/><rect x="119.50" y="432.43" width="1.40" height="1.65" rx="0.7"/><rect x="136.50" y="432.35" width="2.84" height="1.79" rx="0.7"/><rect x="154.40" y="432.34" width="2.75" height="1.83" rx="0.7"/><rect x="175.20" y="432.46" width="2.56" height="1.57" rx="0.7"/><rect x="178.61" y="432.43" width="0.99" height="1.64" rx="0.7"/><rect x="191.40" y="432.45" width="1.40" height="1.61" rx="0.7"/></g>
<g fill="#C07840"><rect x="20.60" y="436.07" width="2.40" height="1.75" rx="0.7"/><rect x="33.80" y="436.12" width="2.40" height="1.67" rx="0.7"/><rect x="48.90" y="436.06" width="2.40" height="1.78" rx="0.7"/><rect x="67.00" y="436.17" width="2.41" height="1.55" rx="0.7"/><rect x="70.26" y="436.06" width="2.60" height="1.78" rx="0.7"/><rect x="73.71" y="436.18" width="2.69" height="1.55" rx="0.7"/><rect x="101.80" y="436.07" width="2.90" height="1.76" rx="0.7"/><rect x="105.55" y="436.08" width="1.65" height="1.74" rx="0.7"/><rect x="119.50" y="436.03" width="2.31" height="1.83" rx="0.7"/><rect x="136.50" y="436.17" width="2.86" height="1.56" rx="0.7"/><rect x="154.40" y="436.15" width="2.46" height="1.60" rx="0.7"/><rect x="175.20" y="436.01" width="2.41" height="1.87" rx="0.7"/><rect x="191.40" y="436.14" width="1.40" height="1.62" rx="0.7"/></g>
<g fill="#FF80C0"><rect x="20.60" y="440.65" width="2.31" height="5.20" rx="0.7"/><rect x="23.76" y="440.58" width="2.35" height="5.35" rx="0.7"/><rect x="26.97" y="440.65" width="2.61" height="5.19" rx="0.7"/><rect x="30.43" y="440.52" width="1.57" height="5.47" rx="0.7"/><rect x="33.80" y="440.15" width="2.80" height="6.20" rx="0.7"/><rect x="37.45" y="440.12" width="2.52" height="6.27" rx="0.7"/><rect x="40.82" y="440.53" width="2.47" height="5.43" rx="0.7"/><rect x="48.90" y="440.67" width="2.34" height="5.17" rx="0.7"/><rect x="52.09" y="440.62" width="2.95" height="5.27" rx="0.7"/><rect x="55.89" y="440.49" width="1.91" height="5.51" rx="0.7"/><rect x="67.00" y="440.61" width="2.63" height="5.28" rx="0.7"/><rect x="70.48" y="440.08" width="2.70" height="6.35" rx="0.7"/><rect x="74.04" y="440.23" width="2.84" height="6.05" rx="0.7"/><rect x="77.73" y="440.43" width="2.86" height="5.63" rx="0.7"/><rect x="81.44" y="440.69" width="2.49" height="5.12" rx="0.7"/><rect x="84.78" y="440.65" width="2.51" height="5.19" rx="0.7"/><rect x="101.80" y="440.66" width="2.61" height="5.18" rx="0.7"/><rect x="105.26" y="440.20" width="2.40" height="6.10" rx="0.7"/><rect x="108.51" y="440.40" width="1.19" height="5.69" rx="0.7"/><rect x="136.50" y="440.56" width="2.93" height="5.37" rx="0.7"/><rect x="140.28" y="440.41" width="2.86" height="5.68" rx="0.7"/><rect x="143.99" y="440.38" width="1.41" height="5.73" rx="0.7"/><rect x="154.40" y="440.49" width="2.65" height="5.52" rx="0.7"/><rect x="157.90" y="440.56" width="2.33" height="5.39" rx="0.7"/><rect x="161.08" y="440.38" width="1.22" height="5.75" rx="0.7"/><rect x="175.20" y="440.25" width="2.44" height="6.00" rx="0.7"/><rect x="178.49" y="440.58" width="2.60" height="5.34" rx="0.7"/><rect x="181.94" y="440.08" width="1.66" height="6.34" rx="0.7"/><rect x="191.40" y="440.13" width="2.97" height="6.23" rx="0.7"/><rect x="195.22" y="440.66" width="2.08" height="5.18" rx="0.7"/></g>
<path d="M121.20 439.78Q118.50 443.25 121.20 446.72M124.40 439.83Q122.60 443.25 124.40 446.67M128.20 440.24Q125.50 443.25 128.20 446.26" stroke="#FF80C0" stroke-width="1.6" fill="none" stroke-linecap="round"/>
</g>
<text x="25.2" y="272.4" font-size="5.6" text-anchor="middle" font-weight="normal" font-style="normal" fill="#000" >1</text>
<text x="41.4" y="272.4" font-size="5.6" text-anchor="middle" font-weight="normal" font-style="normal" fill="#000" >2</text>
<text x="56.2" y="272.4" font-size="5.6" text-anchor="middle" font-weight="normal" font-style="normal" fill="#000" >3</text>
<text x="86.3" y="272.4" font-size="5.6" text-anchor="middle" font-weight="normal" font-style="normal" fill="#000" >4</text>
<text x="110.4" y="272.4" font-size="5.6" text-anchor="middle" font-weight="normal" font-style="normal" fill="#000" >5</text>
<text x="128.1" y="272.4" font-size="5.6" text-anchor="middle" font-weight="normal" font-style="normal" fill="#000" >6</text>
<text x="145" y="272.4" font-size="5.6" text-anchor="middle" font-weight="normal" font-style="normal" fill="#000" >7</text>
<text x="162.7" y="272.4" font-size="5.6" text-anchor="middle" font-weight="normal" font-style="normal" fill="#000" >8</text>
<text x="183" y="272.4" font-size="5.6" text-anchor="middle" font-weight="normal" font-style="normal" fill="#000" >9</text>
<text x="196.7" y="272.4" font-size="5.6" text-anchor="middle" font-weight="normal" font-style="normal" fill="#000" >10</text>
<text x="18.3" y="282.5" font-size="5.8" text-anchor="end" font-weight="normal" font-style="normal" fill="#000" >1</text>
<text x="18.3" y="295" font-size="5.8" text-anchor="end" font-weight="normal" font-style="normal" fill="#000" >2</text>
<text x="18.3" y="307" font-size="5.8" text-anchor="end" font-weight="normal" font-style="normal" fill="#000" >3</text>
<text x="18.3" y="318" font-size="5.8" text-anchor="end" font-weight="normal" font-style="normal" fill="#000" >4</text>
<text x="18.3" y="328" font-size="5.8" text-anchor="end" font-weight="normal" font-style="normal" fill="#000" >5</text>
<text x="18.3" y="337.5" font-size="5.8" text-anchor="end" font-weight="normal" font-style="normal" fill="#000" >6</text>
<text x="18.3" y="346.4" font-size="5.8" text-anchor="end" font-weight="normal" font-style="normal" fill="#000" >7</text>
<text x="18.3" y="354" font-size="5.8" text-anchor="end" font-weight="normal" font-style="normal" fill="#000" >8</text>
<text x="18.3" y="362" font-size="5.8" text-anchor="end" font-weight="normal" font-style="normal" fill="#000" >9</text>
<text x="18.3" y="370.8" font-size="5.8" text-anchor="end" font-weight="normal" font-style="normal" fill="#000" >10</text>
<text x="18.3" y="378.8" font-size="5.8" text-anchor="end" font-weight="normal" font-style="normal" fill="#000" >11</text>
<text x="18.3" y="386" font-size="5.8" text-anchor="end" font-weight="normal" font-style="normal" fill="#000" >12</text>
<text x="18.3" y="393" font-size="5.8" text-anchor="end" font-weight="normal" font-style="normal" fill="#000" >13</text>
<text x="18.3" y="399" font-size="5.8" text-anchor="end" font-weight="normal" font-style="normal" fill="#000" >14</text>
<text x="18.3" y="405.5" font-size="5.8" text-anchor="end" font-weight="normal" font-style="normal" fill="#000" >15</text>
<text x="18.3" y="412.5" font-size="5.8" text-anchor="end" font-weight="normal" font-style="normal" fill="#000" >16</text>
<text x="18.3" y="416.5" font-size="5.8" text-anchor="end" font-weight="normal" font-style="normal" fill="#000" >17</text>
<text x="18.3" y="420.5" font-size="5.8" text-anchor="end" font-weight="normal" font-style="normal" fill="#000" >18</text>
<text x="18.3" y="424.5" font-size="5.8" text-anchor="end" font-weight="normal" font-style="normal" fill="#000" >19</text>
<text x="18.3" y="430" font-size="5.8" text-anchor="end" font-weight="normal" font-style="normal" fill="#000" >20</text>
<text x="18.3" y="435" font-size="5.8" text-anchor="end" font-weight="normal" font-style="normal" fill="#000" >21</text>
<text x="18.3" y="439" font-size="5.8" text-anchor="end" font-weight="normal" font-style="normal" fill="#000" >22</text>
<text x="18.3" y="444" font-size="5.8" text-anchor="end" font-weight="normal" font-style="normal" fill="#000" >X</text>
<text x="18.3" y="448" font-size="5.8" text-anchor="end" font-weight="normal" font-style="normal" fill="#000" >Y</text>
<text x="0" y="0" font-size="9.3" text-anchor="middle" font-weight="normal" font-style="normal" fill="#000" transform="translate(7.7,361.2) rotate(-90)">Chromosome</text>
<text x="218.1" y="10" font-size="14" text-anchor="start" font-weight="bold" font-style="normal" fill="#000" >b</text>
<ellipse cx="255.9" cy="59.6" rx="32.7" ry="32.7" fill="#A6A6A6"/>
<ellipse cx="250.4" cy="59.5" rx="26.6" ry="26.9" fill="#5B9BD5"/>
<ellipse cx="282.5" cy="60" rx="5.6" ry="5.6" fill="#ED7D31"/>
<ellipse cx="282.5" cy="60" rx="3.4" ry="3.4" fill="#FDBF10"/>
<ellipse cx="332.7" cy="59.6" rx="32.6" ry="32.7" fill="#A6A6A6"/>
<ellipse cx="316.3" cy="59.3" rx="15.5" ry="15" fill="#5B9BD5"/>
<ellipse cx="348.5" cy="59.1" rx="16.2" ry="22.2" fill="#ED7D31"/>
<ellipse cx="349" cy="60.1" rx="6.7" ry="6.4" fill="#FDBF10"/>
<ellipse cx="409.4" cy="59.6" rx="32.7" ry="32.7" fill="#A6A6A6"/>
<ellipse cx="385.9" cy="59.6" rx="8.8" ry="8.8" fill="#5B9BD5"/>
<ellipse cx="418.3" cy="59.3" rx="23.6" ry="22.4" fill="#ED7D31"/>
<ellipse cx="418.7" cy="59.6" rx="8.9" ry="8.6" fill="#FDBF10"/>
<ellipse cx="486.7" cy="59.6" rx="32.6" ry="32.7" fill="#A6A6A6"/>
<ellipse cx="460" cy="59.6" rx="5.5" ry="5.5" fill="#5B9BD5"/>
<ellipse cx="492.2" cy="59.6" rx="26.7" ry="26.9" fill="#ED7D31"/>
<ellipse cx="491.8" cy="59.3" rx="12.8" ry="11.5" fill="#FDBF10"/>
<text x="241.2" y="12.1" font-size="9.0" text-anchor="start" font-weight="normal" font-style="normal" fill="#000" >CAM277</text>
<text x="241.2" y="22.7" font-size="9.0" text-anchor="start" font-weight="normal" font-style="normal" fill="#000" >Tumor</text>
<text x="312.4" y="12.1" font-size="9.0" text-anchor="start" font-weight="normal" font-style="normal" fill="#000" >Organoid</text>
<text x="312.4" y="22.7" font-size="9.0" text-anchor="start" font-weight="normal" font-style="normal" fill="#000" >Passage 3</text>
<text x="387.9" y="11.8" font-size="9.0" text-anchor="start" font-weight="normal" font-style="normal" fill="#000" >Organoid</text>
<text x="387.9" y="22.4" font-size="9.0" text-anchor="start" font-weight="normal" font-style="normal" fill="#000" >Passage 8</text>
<text x="467.3" y="10.7" font-size="9.0" text-anchor="start" font-weight="normal" font-style="normal" fill="#000" >Organoid</text>
<text x="467.3" y="21.2" font-size="9.0" text-anchor="start" font-weight="normal" font-style="normal" fill="#000" >Passage 14</text>
<text x="218.7" y="108.2" font-size="14" text-anchor="start" font-weight="bold" font-style="normal" fill="#000" >c</text>
<rect x="224.4" y="110" width="81.6" height="115.6" fill="#A6A6A6" filter="url(#sb)"/>
<rect x="225.0" y="110.6" width="80.39999999999999" height="114.39999999999999" fill="#A6A6A6"/>
<rect x="327.9" y="109.4" width="80" height="47.9" fill="#5B9BD5" filter="url(#sb)"/>
<rect x="328.5" y="110.0" width="78.8" height="46.699999999999996" fill="#5B9BD5"/>
<rect x="327.9" y="168.4" width="80" height="56.3" fill="#ED7D31" filter="url(#sb)"/>
<rect x="328.5" y="169.0" width="78.8" height="55.099999999999994" fill="#ED7D31"/>
<rect x="430.7" y="170.9" width="80.9" height="53.8" fill="#FDBF10" filter="url(#sb)"/>
<rect x="431.3" y="171.5" width="79.7" height="52.599999999999994" fill="#FDBF10"/>
<path d="M325.9 108.9H320.0Q317.5 108.9 317.5 111.4V221.7Q317.5 224.2 320.0 224.2H325.9" fill="none" stroke="#000" stroke-width="3.2" stroke-linejoin="round"/>
<path d="M309 167.3H317.5" fill="none" stroke="#000" stroke-width="3.2"/>
<path d="M426.9 169.2H419.9Q417.4 169.2 417.4 171.7V220.4Q417.4 222.9 419.9 222.9H426.9" fill="none" stroke="#000" stroke-width="3.2" stroke-linejoin="round"/>
<path d="M407.4 196.2H417.4" fill="none" stroke="#000" stroke-width="3.2"/>
<text x="227" y="118.9" font-size="8.3" text-anchor="start" font-weight="normal" font-style="normal" fill="#000" >16715 SNVs;</text>
<text x="227" y="140.0" font-size="8.3" text-anchor="start" font-weight="normal" font-style="normal" fill="#000" >Cancer gene SNVs:</text>
<text x="227" y="149.8" font-size="8.3" text-anchor="start" font-weight="normal" font-style="italic" fill="#000" >ALK</text>
<text x="227" y="160.15" font-size="8.3" text-anchor="start" font-weight="normal" font-style="italic" fill="#000" >AFF1</text>
<text x="227" y="170.5" font-size="8.3" text-anchor="start" font-weight="normal" font-style="italic" fill="#000" >LIFR</text>
<text x="227" y="180.85000000000002" font-size="8.3" text-anchor="start" font-weight="normal" font-style="italic" fill="#000" >PREX2</text>
<text x="227" y="191.20000000000002" font-size="8.3" text-anchor="start" font-weight="normal" font-style="italic" fill="#000" >RNF43</text>
<text x="227" y="201.55" font-size="8.3" text-anchor="start" font-weight="normal" font-style="italic" fill="#000" >SETBP1</text>
<text x="227" y="211.9" font-size="8.3" text-anchor="start" font-weight="normal" font-style="italic" fill="#000" >SND1</text>
<text x="227" y="222.25" font-size="8.3" text-anchor="start" font-weight="normal" font-style="italic" fill="#000" >TP53</text>
<text x="330.1" y="119.7" font-size="8.3" text-anchor="start" font-weight="normal" font-style="normal" fill="#000" >1495 SNVs;</text>
<text x="330.1" y="140.2" font-size="8.3" text-anchor="start" font-weight="normal" font-style="normal" fill="#000" >No unique cancer</text>
<text x="330.1" y="150.4" font-size="8.3" text-anchor="start" font-weight="normal" font-style="normal" fill="#000" >gene SNVs</text>
<text x="330.1" y="181" font-size="8.3" text-anchor="start" font-weight="normal" font-style="normal" fill="#000" >2344 SNVs;</text>
<text x="330.1" y="201.6" font-size="8.3" text-anchor="start" font-weight="normal" font-style="normal" fill="#000" >No unique cancer</text>
<text x="330.1" y="211.6" font-size="8.3" text-anchor="start" font-weight="normal" font-style="normal" fill="#000" >gene SNVs</text>
<text x="432.3" y="181" font-size="8.3" text-anchor="start" font-weight="normal" font-style="normal" fill="#000" >2256 SNVs;</text>
<text x="432.3" y="201.6" font-size="8.3" text-anchor="start" font-weight="normal" font-style="normal" fill="#000" >Cancer gene SNVs:</text>
<text x="432.3" y="211.6" font-size="8.3" text-anchor="start" font-weight="normal" font-style="italic" fill="#000" >RNF213</text>
<text x="432.3" y="222" font-size="8.3" text-anchor="start" font-weight="normal" font-style="italic" fill="#000" >TTL</text>
<path d="M398.8 134.5L408.6 125H403.6V112.4H394.0V125H389.0Z" fill="#7030A0"/>
<path d="M398.4 170.3L408.4 180.4H403.59999999999997V192.4H393.2V180.4H388.4Z" fill="#E8212E"/>
<path d="M499.5 170.9L509.1 181.3H504.4V192.4H494.6V181.3H489.9Z" fill="#E8212E"/>
<text x="233.3" y="241.0" font-size="8.3" text-anchor="start" font-weight="normal" font-style="normal" fill="#000" >Clone ID:</text>
<circle cx="275.3" cy="238.2" r="4" fill="#A6A6A6"/>
<text x="275.3" y="240.5" font-size="6.6" text-anchor="middle" font-weight="normal" font-style="normal" fill="#fff" >1</text>
<circle cx="288.8" cy="238.2" r="4" fill="#ED7D31"/>
<text x="288.8" y="240.5" font-size="6.6" text-anchor="middle" font-weight="normal" font-style="normal" fill="#fff" >2</text>
<circle cx="302.1" cy="238.2" r="4" fill="#FDBF10"/>
<text x="302.1" y="240.5" font-size="6.6" text-anchor="middle" font-weight="normal" font-style="normal" fill="#fff" >3</text>
<circle cx="315.4" cy="238.2" r="4" fill="#5B9BD5"/>
<text x="315.4" y="240.5" font-size="6.6" text-anchor="middle" font-weight="normal" font-style="normal" fill="#fff" >4</text>
<text x="218.8" y="267.5" font-size="14" text-anchor="start" font-weight="bold" font-style="normal" fill="#000" >f</text>
<ellipse cx="257" cy="320.3" rx="34.3" ry="34" fill="#A6A6A6"/>
<ellipse cx="256.4" cy="320.3" rx="6" ry="5.2" fill="#ED7D31"/>
<ellipse cx="331.5" cy="320.3" rx="34.8" ry="34" fill="#A6A6A6"/>
<ellipse cx="331.3" cy="320.3" rx="7" ry="6.3" fill="#ED7D31"/>
<ellipse cx="406" cy="320.3" rx="35" ry="34" fill="#A6A6A6"/>
<ellipse cx="407.2" cy="320.3" rx="10" ry="9.8" fill="#ED7D31"/>
<text x="238.8" y="271.3" font-size="9.0" text-anchor="start" font-weight="normal" font-style="normal" fill="#000" >CAM338</text>
<text x="238.8" y="281.8" font-size="9.0" text-anchor="start" font-weight="normal" font-style="normal" fill="#000" >Tumor</text>
<text x="311.4" y="271.3" font-size="9.0" text-anchor="start" font-weight="normal" font-style="normal" fill="#000" >Organoid</text>
<text x="311.4" y="281.8" font-size="9.0" text-anchor="start" font-weight="normal" font-style="normal" fill="#000" >Passage 4</text>
<text x="386.7" y="271.3" font-size="9.0" text-anchor="start" font-weight="normal" font-style="normal" fill="#000" >Organoid</text>
<text x="386.7" y="281.8" font-size="9.0" text-anchor="start" font-weight="normal" font-style="normal" fill="#000" >Passage 12</text>
<text x="219.0" y="360.8" font-size="14" text-anchor="start" font-weight="bold" font-style="normal" fill="#000" >g</text>
<rect x="230.6" y="363.2" width="83.6" height="96.4" fill="#A6A6A6" filter="url(#sb)"/>
<rect x="231.2" y="363.8" width="82.39999999999999" height="95.2" fill="#A6A6A6"/>
<rect x="335.2" y="369.3" width="87.2" height="78.8" fill="#ED7D31" filter="url(#sb)"/>
<rect x="335.8" y="369.90000000000003" width="86.0" height="77.6" fill="#ED7D31"/>
<path d="M333.4 367.8H328.1Q325.6 367.8 325.6 370.3V446.5Q325.6 449 328.1 449H333.4" fill="none" stroke="#000" stroke-width="3.2" stroke-linejoin="round"/>
<path d="M316.6 408.9H325.6" fill="none" stroke="#000" stroke-width="3.2"/>
<text x="233.2" y="374.1" font-size="8.3" text-anchor="start" font-weight="normal" font-style="normal" fill="#000" >9913 SNVs;</text>
<text x="233.2" y="395.0" font-size="8.3" text-anchor="start" font-weight="normal" font-style="normal" fill="#000" >Cancer gene SNVs:</text>
<text x="233.2" y="405.5" font-size="8.3" text-anchor="start" font-weight="normal" font-style="italic" fill="#000" >PIK3CA</text>
<text x="233.2" y="416.0" font-size="8.3" text-anchor="start" font-weight="normal" font-style="italic" fill="#000" >TP53</text>
<text x="233.2" y="426.5" font-size="8.3" text-anchor="start" font-weight="normal" font-style="italic" fill="#000" >FOXP1</text>
<text x="233.2" y="437.0" font-size="8.3" text-anchor="start" font-weight="normal" font-style="italic" fill="#000" >GAS7</text>
<text x="233.2" y="447.5" font-size="8.3" text-anchor="start" font-weight="normal" font-style="italic" fill="#000" >CDC73</text>
<text x="272.1" y="405.5" font-size="8.3" text-anchor="start" font-weight="normal" font-style="italic" fill="#000" >MED12</text>
<text x="272.1" y="416.0" font-size="8.3" text-anchor="start" font-weight="normal" font-style="italic" fill="#000" >PREX2</text>
<text x="272.1" y="426.5" font-size="8.3" text-anchor="start" font-weight="normal" font-style="italic" fill="#000" >PTPRB</text>
<text x="272.1" y="437.0" font-size="8.3" text-anchor="start" font-weight="normal" font-style="italic" fill="#000" >SH3GL1</text>
<text x="337.6" y="380.8" font-size="8.3" text-anchor="start" font-weight="normal" font-style="normal" fill="#000" >3619 SNVs;</text>
<text x="337.6" y="402.6" font-size="8.3" text-anchor="start" font-weight="normal" font-style="normal" fill="#000" >Cancer gene SNVs:</text>
<text x="337.6" y="413.2" font-size="8.3" text-anchor="start" font-weight="normal" font-style="italic" fill="#000" >FBXO11</text>
<text x="337.6" y="423.7" font-size="8.3" text-anchor="start" font-weight="normal" font-style="italic" fill="#000" >POU2AF1</text>
<text x="337.6" y="434.2" font-size="8.3" text-anchor="start" font-weight="normal" font-style="italic" fill="#000" >EBF1</text>
<path d="M408.5 370.3L418.1 381.5H413.4V391.3H403.6V381.5H398.9Z" fill="#E8212E"/>
<text x="237.8" y="473.0" font-size="8.3" text-anchor="start" font-weight="normal" font-style="normal" fill="#000" >Clone ID:</text>
<circle cx="279.6" cy="470.2" r="4" fill="#A6A6A6"/>
<text x="279.6" y="472.5" font-size="6.6" text-anchor="middle" font-weight="normal" font-style="normal" fill="#fff" >1</text>
<circle cx="292.9" cy="470.2" r="4" fill="#ED7D31"/>
<text x="292.9" y="472.5" font-size="6.6" text-anchor="middle" font-weight="normal" font-style="normal" fill="#fff" >2</text>
<text x="533.7" y="10" font-size="14" text-anchor="start" font-weight="bold" font-style="normal" fill="#000" >d</text>
<rect x="568" y="171.50" width="25.2" height="37.00" fill="#5A8A72" stroke="#000" stroke-width="0.7"/>
<rect x="568" y="145.60" width="25.2" height="25.90" fill="#86AB8C" stroke="#000" stroke-width="0.7"/>
<rect x="568" y="102.87" width="25.2" height="42.73" fill="#D9CFB0" stroke="#000" stroke-width="0.7"/>
<rect x="568" y="47.18" width="25.2" height="55.69" fill="#97622A" stroke="#000" stroke-width="0.7"/>
<rect x="568" y="32.94" width="25.2" height="14.25" fill="#998DA2" stroke="#000" stroke-width="0.7"/>
<rect x="568" y="23.50" width="25.2" height="9.44" fill="#2B3361" stroke="#000" stroke-width="0.7"/>
<text x="580.6" y="217.2" font-size="7.15" text-anchor="middle" font-weight="normal" font-style="normal" fill="#000" >Tumor</text>
<rect x="598.2" y="176.20" width="25.2" height="32.30" fill="#5A8A72" stroke="#000" stroke-width="0.7"/>
<rect x="598.2" y="149.30" width="25.2" height="26.90" fill="#86AB8C" stroke="#000" stroke-width="0.7"/>
<rect x="598.2" y="103.49" width="25.2" height="45.81" fill="#D9CFB0" stroke="#000" stroke-width="0.7"/>
<rect x="598.2" y="53.90" width="25.2" height="49.60" fill="#97622A" stroke="#000" stroke-width="0.7"/>
<rect x="598.2" y="43.11" width="25.2" height="10.79" fill="#998DA2" stroke="#000" stroke-width="0.7"/>
<rect x="598.2" y="23.50" width="25.2" height="19.61" fill="#2B3361" stroke="#000" stroke-width="0.7"/>
<text x="610.8000000000001" y="217.2" font-size="7.15" text-anchor="middle" font-weight="normal" font-style="normal" fill="#000" >Org_P3</text>
<rect x="628.4" y="174.90" width="25.2" height="33.60" fill="#5A8A72" stroke="#000" stroke-width="0.7"/>
<rect x="628.4" y="150.30" width="25.2" height="24.60" fill="#86AB8C" stroke="#000" stroke-width="0.7"/>
<rect x="628.4" y="103.79" width="25.2" height="46.51" fill="#D9CFB0" stroke="#000" stroke-width="0.7"/>
<rect x="628.4" y="53.28" width="25.2" height="50.51" fill="#97622A" stroke="#000" stroke-width="0.7"/>
<rect x="628.4" y="42.37" width="25.2" height="10.91" fill="#998DA2" stroke="#000" stroke-width="0.7"/>
<rect x="628.4" y="23.50" width="25.2" height="18.87" fill="#2B3361" stroke="#000" stroke-width="0.7"/>
<text x="641.0" y="217.2" font-size="7.15" text-anchor="middle" font-weight="normal" font-style="normal" fill="#000" >Org_P8</text>
<rect x="658.6" y="178.16" width="25.2" height="30.34" fill="#5A8A72" stroke="#000" stroke-width="0.7"/>
<rect x="658.6" y="150.30" width="25.2" height="27.86" fill="#86AB8C" stroke="#000" stroke-width="0.7"/>
<rect x="658.6" y="105.08" width="25.2" height="45.21" fill="#D9CFB0" stroke="#000" stroke-width="0.7"/>
<rect x="658.6" y="55.32" width="25.2" height="49.76" fill="#97622A" stroke="#000" stroke-width="0.7"/>
<rect x="658.6" y="44.59" width="25.2" height="10.73" fill="#998DA2" stroke="#000" stroke-width="0.7"/>
<rect x="658.6" y="23.50" width="25.2" height="21.09" fill="#2B3361" stroke="#000" stroke-width="0.7"/>
<text x="671.2" y="217.2" font-size="7.15" text-anchor="middle" font-weight="normal" font-style="normal" fill="#000" >Org_P14</text>
<text x="556.6" y="210.9" font-size="6.8" text-anchor="end" font-weight="normal" font-style="normal" fill="#000" >0.0</text>
<text x="556.6" y="173.9" font-size="6.8" text-anchor="end" font-weight="normal" font-style="normal" fill="#000" >0.2</text>
<text x="556.6" y="136.9" font-size="6.8" text-anchor="end" font-weight="normal" font-style="normal" fill="#000" >0.4</text>
<text x="556.6" y="99.89999999999999" font-size="6.8" text-anchor="end" font-weight="normal" font-style="normal" fill="#000" >0.6</text>
<text x="556.6" y="62.9" font-size="6.8" text-anchor="end" font-weight="normal" font-style="normal" fill="#000" >0.8</text>
<text x="556.6" y="25.9" font-size="6.8" text-anchor="end" font-weight="normal" font-style="normal" fill="#000" >1.0</text>
<path d="M563.5 23.5V208.5M563.5 208.50H558.5M563.5 171.50H558.5M563.5 134.50H558.5M563.5 97.50H558.5M563.5 60.50H558.5M563.5 23.50H558.5" stroke="#111" stroke-width="0.7" fill="none"/>
<text x="0" y="0" font-size="7.1" text-anchor="middle" font-weight="normal" font-style="normal" fill="#000" transform="translate(540.4,116.0) rotate(-90)">Mutational signature contribution (%)</text>
<text x="456.0" y="267.6" font-size="14" text-anchor="start" font-weight="bold" font-style="normal" fill="#000" >h</text>
<rect x="489" y="453.84" width="21.8" height="4.66" fill="#5A8A72" stroke="#000" stroke-width="0.7"/>
<rect x="489" y="446.38" width="21.8" height="7.46" fill="#86AB8C" stroke="#000" stroke-width="0.7"/>
<rect x="489" y="390.65" width="21.8" height="55.73" fill="#D9CFB0" stroke="#000" stroke-width="0.7"/>
<rect x="489" y="359.34" width="21.8" height="31.32" fill="#97622A" stroke="#000" stroke-width="0.7"/>
<rect x="489" y="296.70" width="21.8" height="62.63" fill="#998DA2" stroke="#000" stroke-width="0.7"/>
<rect x="489" y="272.10" width="21.8" height="24.60" fill="#2B3361" stroke="#000" stroke-width="0.7"/>
<text x="499.9" y="467.8" font-size="7.15" text-anchor="middle" font-weight="normal" font-style="normal" fill="#000" >Tumor</text>
<rect x="515.2" y="451.04" width="21.8" height="7.46" fill="#5A8A72" stroke="#000" stroke-width="0.7"/>
<rect x="515.2" y="450.35" width="21.8" height="0.69" fill="#86AB8C" stroke="#000" stroke-width="0.7"/>
<rect x="515.2" y="390.65" width="21.8" height="59.70" fill="#D9CFB0" stroke="#000" stroke-width="0.7"/>
<rect x="515.2" y="353.65" width="21.8" height="37.00" fill="#97622A" stroke="#000" stroke-width="0.7"/>
<rect x="515.2" y="283.75" width="21.8" height="69.90" fill="#998DA2" stroke="#000" stroke-width="0.7"/>
<rect x="515.2" y="272.10" width="21.8" height="11.65" fill="#2B3361" stroke="#000" stroke-width="0.7"/>
<text x="525.7" y="467.8" font-size="7.15" text-anchor="middle" font-weight="normal" font-style="normal" fill="#000" >Org_P4</text>
<rect x="541.4" y="449.93" width="21.8" height="8.57" fill="#5A8A72" stroke="#000" stroke-width="0.7"/>
<rect x="541.4" y="449.27" width="21.8" height="0.65" fill="#86AB8C" stroke="#000" stroke-width="0.7"/>
<rect x="541.4" y="398.67" width="21.8" height="50.61" fill="#D9CFB0" stroke="#000" stroke-width="0.7"/>
<rect x="541.4" y="363.62" width="21.8" height="35.04" fill="#97622A" stroke="#000" stroke-width="0.7"/>
<rect x="541.4" y="302.54" width="21.8" height="61.08" fill="#998DA2" stroke="#000" stroke-width="0.7"/>
<rect x="541.4" y="272.10" width="21.8" height="30.44" fill="#2B3361" stroke="#000" stroke-width="0.7"/>
<text x="553.3" y="467.8" font-size="7.15" text-anchor="middle" font-weight="normal" font-style="normal" fill="#000" >Org_P12</text>
<text x="478.9" y="460.9" font-size="6.8" text-anchor="end" font-weight="normal" font-style="normal" fill="#000" >0.0</text>
<text x="478.9" y="423.62" font-size="6.8" text-anchor="end" font-weight="normal" font-style="normal" fill="#000" >0.2</text>
<text x="478.9" y="386.34" font-size="6.8" text-anchor="end" font-weight="normal" font-style="normal" fill="#000" >0.4</text>
<text x="478.9" y="349.05999999999995" font-size="6.8" text-anchor="end" font-weight="normal" font-style="normal" fill="#000" >0.6</text>
<text x="478.9" y="311.78" font-size="6.8" text-anchor="end" font-weight="normal" font-style="normal" fill="#000" >0.8</text>
<text x="478.9" y="274.5" font-size="6.8" text-anchor="end" font-weight="normal" font-style="normal" fill="#000" >1.0</text>
<path d="M486.6 272.1V458.5M486.6 458.50H481.6M486.6 421.22H481.6M486.6 383.94H481.6M486.6 346.66H481.6M486.6 309.38H481.6M486.6 272.10H481.6" stroke="#111" stroke-width="0.7" fill="none"/>
<text x="0" y="0" font-size="7.1" text-anchor="middle" font-weight="normal" font-style="normal" fill="#000" transform="translate(462.2,365.3) rotate(-90)">Mutational signature contribution (%)</text>
<rect x="579.20" y="222.62" width="1.8" height="1.8" fill="#5A8A72"/>
<text x="583.1" y="225.5" font-size="5.5" text-anchor="start" font-weight="normal" font-style="normal" fill="#000" >S17A</text>
<rect x="599.00" y="222.62" width="1.8" height="1.8" fill="#86AB8C"/>
<text x="602.9" y="225.5" font-size="5.5" text-anchor="start" font-weight="normal" font-style="normal" fill="#000" >S17B</text>
<rect x="621.10" y="222.62" width="1.8" height="1.8" fill="#D9CFB0"/>
<text x="625.0" y="225.5" font-size="5.5" text-anchor="start" font-weight="normal" font-style="normal" fill="#000" >S1 (age)</text>
<rect x="650.20" y="222.62" width="1.8" height="1.8" fill="#97622A"/>
<text x="654.1" y="225.5" font-size="5.5" text-anchor="start" font-weight="normal" font-style="normal" fill="#000" >S18−like</text>
<rect x="589.60" y="230.62" width="1.8" height="1.8" fill="#998DA2"/>
<text x="593.5" y="233.5" font-size="5.5" text-anchor="start" font-weight="normal" font-style="normal" fill="#000" >S2 (APOBEC)</text>
<rect x="630.90" y="230.62" width="1.8" height="1.8" fill="#2B3361"/>
<text x="634.8" y="233.5" font-size="5.5" text-anchor="start" font-weight="normal" font-style="normal" fill="#000" >S3 (BRCA)</text>
<rect x="566.80" y="355.92" width="1.8" height="1.8" fill="#5A8A72"/>
<text x="570.7" y="358.8" font-size="5.5" text-anchor="start" font-weight="normal" font-style="normal" fill="#000" >S17A</text>
<rect x="566.80" y="362.00" width="1.8" height="1.8" fill="#86AB8C"/>
<text x="570.7" y="364.88" font-size="5.5" text-anchor="start" font-weight="normal" font-style="normal" fill="#000" >S17B</text>
<rect x="566.80" y="368.08" width="1.8" height="1.8" fill="#D9CFB0"/>
<text x="570.7" y="370.96000000000004" font-size="5.5" text-anchor="start" font-weight="normal" font-style="normal" fill="#000" >S1 (age)</text>
<rect x="566.80" y="374.16" width="1.8" height="1.8" fill="#97622A"/>
<text x="570.7" y="377.04" font-size="5.5" text-anchor="start" font-weight="normal" font-style="normal" fill="#000" >S18−like</text>
<rect x="566.80" y="380.24" width="1.8" height="1.8" fill="#998DA2"/>
<text x="570.7" y="383.12" font-size="5.5" text-anchor="start" font-weight="normal" font-style="normal" fill="#000" >S2 (APOBEC)</text>
<rect x="566.80" y="386.32" width="1.8" height="1.8" fill="#2B3361"/>
<text x="570.7" y="389.2" font-size="5.5" text-anchor="start" font-weight="normal" font-style="normal" fill="#000" >S3 (BRCA)</text>
</svg></body></html>
